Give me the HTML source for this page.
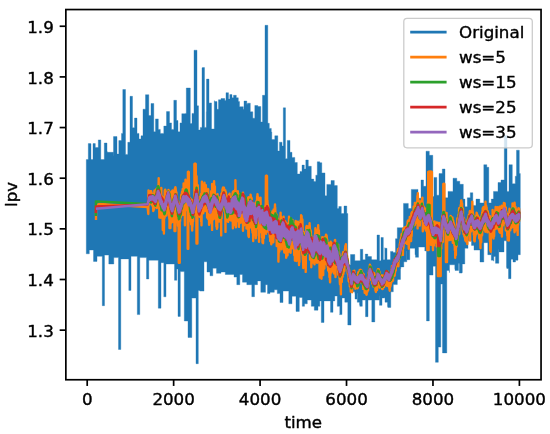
<!DOCTYPE html>
<html><head><meta charset="utf-8"><title>lpv rolling mean</title><style>html,body{margin:0;padding:0;background:#fff}svg{display:block}</style></head><body>
<svg width="550" height="434" viewBox="0 0 550 434">
<rect width="550" height="434" fill="#fff"/>
<g fill="none" stroke-linejoin="round" stroke-linecap="butt" stroke-width="2.4">
<path d="M86.3 159.6L88.3 159.6L88.3 143.6L90.8 143.6L90.8 144L91 144L91 159.6L93 159.6L93 143.6L95.3 143.6L95.3 147.6L98.3 147.6L98.3 139.9L100.8 139.9L100.8 159.6L104.3 159.6L104.3 143L107 143L107 151.6L107.3 151.6L107.3 152.3L113.3 152.3L113.3 155.4L113.5 155.4L113.5 136.6L117 136.6L117 154.1L118.8 154.1L118.8 140.6L121.5 140.6L121.5 133.4L122.8 133.4L122.8 89.5L125.5 89.5L125.5 154.4L127.8 154.4L127.8 142.3L130 142.3L130 96.3L132.5 96.3L132.5 127.7L134.5 127.7L134.5 118.1L137 118.1L137 133.4L139 133.4L139 139L141 139L141 135.8L143 135.8L143 109.2L145.5 109.2L145.5 94.7L148.8 94.7L148.8 115.6L151 115.6L151 103.5L153.8 103.5L153.8 131.8L155.5 131.8L155.5 118.9L158.3 118.9L158.3 129.4L160.3 129.4L160.3 133.4L163.8 133.4L163.8 126.1L166.5 126.1L166.5 111.6L169.5 111.6L169.5 122.9L171.5 122.9L171.5 129.4L173.8 129.4L173.8 100.3L176.5 100.3L176.5 120.5L178 120.5L178 131.8L180 131.8L180 122.9L181.8 122.9L181.8 113.7L185.5 113.7L185.5 113.4L186.3 113.4L186.3 88L190.3 88L190.3 123.6L192 123.6L192 113.4L193.8 113.4L193.8 114.3L194 114.3L194 50.2L197 50.2L197 105.8L198.5 105.8L198.5 130L200.3 130L200.3 127.4L202 127.4L202 68L202.3 68L202.3 67.6L204.5 67.6L204.5 127.4L206.3 127.4L206.3 111.8L206.5 111.8L206.5 79.1L209 79.1L209 103.3L209.5 103.3L209.5 102.9L211.5 102.9L211.5 129L214.3 129L214.3 100.7L214.5 100.7L214.5 101.6L217 101.6L217 109.3L218.5 109.3L218.5 99.7L221 99.7L221 98.5L224.8 98.5L224.8 100.4L226 100.4L226 92.7L228.5 92.7L228.5 99.1L229.8 99.1L229.8 94.6L232 94.6L232 97.8L233.5 97.8L233.5 95.3L236.3 95.3L236.3 97.8L238.3 97.8L238.3 101.6L239.5 101.6L239.5 106.7L243.3 106.7L243.3 109.3L244 109.3L244 101L246.8 101L246.8 104.2L247.5 104.2L247.5 103.2L250.3 103.2L250.3 111.8L252.8 111.8L252.8 118.2L254.8 118.2L254.8 105.5L257.8 105.5L257.8 106.5L260.8 106.5L260.8 122L262.5 122L262.5 95.3L265 95.3L265 25.3L267.8 25.3L267.8 123.3L269.3 123.3L269.3 128.4L271.3 128.4L271.3 132L271.8 132L271.8 139.6L274.8 139.6L274.8 135.8L277.8 135.8L277.8 151.1L279.5 151.1L279.5 142.2L282 142.2L282 146L283.3 146L283.3 107.8L285.5 107.8L285.5 158.7L287.3 158.7L287.3 140.4L290 140.4L290 152.3L292 152.3L292 157.4L294.8 157.4L294.8 162.5L297.3 162.5L297.3 174L300 174L300 171.4L302 171.4L302 165.1L304.3 165.1L304.3 168.9L305.8 168.9L305.8 160L308.3 160L308.3 166.3L311.3 166.3L311.3 179.1L313.8 179.1L313.8 181.6L315.8 181.6L315.8 175.2L317.3 175.2L317.3 161.8L319.8 161.8L319.8 162.7L321.8 162.7L321.8 172.9L325 172.9L325 195.8L326.8 195.8L326.8 184.4L331 184.4L331 180.5L334.3 180.5L334.3 185.6L337.3 185.6L337.3 208.5L338.8 208.5L338.8 206.5L341.3 206.5L341.3 213.6L344 213.6L344 206L346.8 206L346.8 213.6L347.8 213.6L347.8 264.9L350.5 264.9L350.5 254.5L354.8 254.5L354.8 260.7L360.3 260.7L360.3 249.3L362.8 249.3L362.8 259.7L365.3 259.7L365.3 254.1L367.8 254.1L367.8 256.9L368 256.9L368 256.6L371.5 256.6L371.5 259.6L371.8 259.6L371.8 259.7L377 259.7L377 235L379.5 235L379.5 260.7L381 260.7L381 237.4L381.3 237.4L381.3 237.5L383.3 237.5L383.3 259.7L384.8 259.7L384.8 247.8L385 247.8L385 248.3L387 248.3L387 259.7L390.3 259.7L390.3 260.5L390.5 260.5L390.5 251.4L393 251.4L393 252.4L395.5 252.4L395.5 238.7L397.3 238.7L397.3 227.7L403.5 227.7L403.5 203.4L408.3 203.4L408.3 208.5L411.3 208.5L411.3 189.4L418 189.4L418 198.3L421 198.3L421 180L423.5 180L423.5 186.3L426 186.3L426 151.2L429.3 151.2L429.3 155.3L432.8 155.3L432.8 196.5L434 196.5L434 177.4L436.8 177.4L436.8 195.2L439 195.2L439 173.6L442.3 173.6L442.3 169L445 169L445 197.8L448 197.8L448 191.4L453 191.4L453 178.2L456.8 178.2L456.8 181.2L459.8 181.2L459.8 184.3L463.3 184.3L463.3 199.1L465 199.1L465 206.7L467.3 206.7L467.3 197.8L470.3 197.8L470.3 192.7L472.8 192.7L472.8 205.4L476 205.4L476 199.1L479.8 199.1L479.8 202.9L483.8 202.9L483.8 164.7L486.8 164.7L486.8 167.3L488.8 167.3L488.8 202.9L491.3 202.9L491.3 199.1L493.5 199.1L493.5 191.4L498 191.4L498 182.5L501 182.5L501 180L504.3 180L504.3 135.4L507 135.4L507 191.4L509 191.4L509 164.7L512.3 164.7L512.3 183.8L515.3 183.8L515.3 176.2L516.5 176.2L516.5 150.2L519.3 150.2L519.3 173.6L520.3 173.6L520.3 254.7L518 254.7L518 260.2L515.5 260.2L515.5 262L513 262L513 259.3L511 259.3L511 278.7L508.5 278.7L508.5 268.5L506.8 268.5L506.8 267.4L506.5 267.4L506.5 240.8L504 240.8L504 251.9L499 251.9L499 249.6L498.8 249.6L498.8 263.3L495.5 263.3L495.5 256.5L493.8 256.5L493.8 261.1L493.5 261.1L493.5 260.2L491.3 260.2L491.3 252.2L491 252.2L491 254.7L487.8 254.7L487.8 242.7L483.8 242.7L483.8 262L480 262L480 250.1L474 250.1L474 244.5L473.8 244.5L473.8 245.4L471.5 245.4L471.5 240.8L468 240.8L468 248.3L467.8 248.3L467.8 248.2L464.8 248.2L464.8 263.9L462.3 263.9L462.3 272.5L462 272.5L462 273.1L459.3 273.1L459.3 263.6L458.5 263.6L458.5 270.4L455 270.4L455 268.7L454.8 268.7L454.8 264.8L449.5 264.8L449.5 272.5L449.3 272.5L449.3 270.4L446.8 270.4L446.8 352.9L442.5 352.9L442.5 284L440.8 284L440.8 347.1L438.3 347.1L438.3 362.3L435.5 362.3L435.5 266.2L433 266.2L433 275.1L429.3 275.1L429.3 320.9L426.5 320.9L426.5 250.9L424.8 250.9L424.8 247.1L418.5 247.1L418.5 257.3L415.5 257.3L415.5 254.7L415 254.7L415 248.3L409.8 248.3L409.8 259.7L407 259.7L407 250.9L406.8 250.9L406.8 261.8L403.8 261.8L403.8 266.9L400.8 266.9L400.8 268.7L400.5 268.7L400.5 279.4L397.5 279.4L397.5 280.5L397.3 280.5L397.3 284.6L393.3 284.6L393.3 291.8L390.8 291.8L390.8 307.4L387.8 307.4L387.8 306.5L387.5 306.5L387.5 302.2L385 302.2L385 297.1L384.8 297.1L384.8 298L382 298L382 305.3L379.5 305.3L379.5 295.8L379.3 295.8L379.3 300.1L374.8 300.1L374.8 321.9L371.8 321.9L371.8 300.1L368 300.1L368 316.7L365.5 316.7L365.5 299.6L365.3 299.6L365.3 300.1L362.3 300.1L362.3 306.3L359.8 306.3L359.8 304.7L359.5 304.7L359.5 302.2L357.3 302.2L357.3 293.3L357 293.3L357 299.1L355 299.1L355 293.3L354.8 293.3L354.8 291.8L351 291.8L351 325.1L350.8 325.1L350.8 325L347.8 325L347.8 302.2L344.8 302.2L344.8 298L342 298L342 314.6L340 314.6L340 314.9L339.8 314.9L339.8 306.3L337.3 306.3L337.3 296L334.8 296L334.8 300.9L333 300.9L333 312.3L330.5 312.3L330.5 300.9L324 300.9L324 322.5L321.3 322.5L321.3 300.9L319.8 300.9L319.8 306.3L318 306.3L318 310.2L314.3 310.2L314.3 306.3L311.3 306.3L311.3 300L307.3 300L307.3 303.8L304.5 303.8L304.5 306.3L302.3 306.3L302.3 297.4L299.3 297.4L299.3 311.4L296 311.4L296 296.2L292 296.2L292 303.8L288.8 303.8L288.8 291.1L283 291.1L283 302.5L280 302.5L280 293.6L277.3 293.6L277.3 289.8L274.3 289.8L274.3 292.3L270 292.3L270 293.6L267.5 293.6L267.5 284.7L265.5 284.7L265.5 292.3L260.8 292.3L260.8 280.9L257.5 280.9L257.5 284.7L254.5 284.7L254.5 296.7L251.8 296.7L251.8 284.7L246.8 284.7L246.8 282.2L242.5 282.2L242.5 274.5L239.8 274.5L239.8 284.7L236.8 284.7L236.8 277.1L234 277.1L234 274.5L225.3 274.5L225.3 272L221 272L221 273.3L216.5 273.3L216.5 268.2L212.8 268.2L212.8 275.8L210 275.8L210 272L207 272L207 261.8L204 261.8L204 291.1L199.8 291.1L199.8 290.4L198.3 290.4L198.3 363.7L196 363.7L196 298.1L191.8 298.1L191.8 337.5L188 337.5L188 321L184.3 321L184.3 271.6L180.3 271.6L180.3 316.4L178 316.4L178 269.1L176.8 269.1L176.8 280.3L174.5 280.3L174.5 264L166 264L166 296.8L163.8 296.8L163.8 262.7L161 262.7L161 308.2L158.3 308.2L158.3 260.2L148.8 260.2L148.8 279L146.5 279L146.5 257.6L139.8 257.6L139.8 314.6L137.3 314.6L137.3 256.3L131 256.3L131 290.4L128.8 290.4L128.8 258.9L120.8 258.9L120.8 349.5L118.5 349.5L118.5 257.6L113.8 257.6L113.8 264L108.8 264L108.8 255.1L104.5 255.1L104.5 305.7L102.3 305.7L102.3 256.3L97 256.3L97 261.4L93.5 261.4L93.5 250L89.3 250L89.3 253.8L86.3 253.8Z" stroke="#1f77b4" fill="#1f77b4" stroke-width="0.35"/>
<path d="M96 220L96.1 205.5L99 204L147.6 207L148.3 214L148.5 190.5L148.8 196.4L148.8 204.2L149 204.2L149 195.8L149.2 195L149.2 202.9L149.4 202.7L149.4 195.8L149.7 196.6L149.7 204.3L149.9 203.1L149.9 195.4L150.1 195.2L150.1 203.4L150.3 201.6L150.3 191.3L150.5 193.1L150.5 202.7L150.7 201.5L150.7 192.4L150.9 192.6L150.9 200.1L151.2 199.9L151.2 191.3L151.4 193L151.4 202.9L151.6 201.4L151.6 193L151.8 193.3L151.8 202.4L152 202.5L152 193.5L152.2 194.6L152.2 205.3L152.5 204.3L152.5 195.2L152.7 194.5L152.7 206.3L152.9 204.5L152.9 194.2L153.1 194.9L153.1 207.4L153.3 211.1L153.3 194.2L153.5 194.9L153.5 204.8L153.8 203.8L153.8 194.7L154 195.4L154 209.8L154.2 204.5L154.2 197.4L154.4 190.8L154.4 203.7L154.6 205.5L154.6 195.8L154.8 194.1L154.8 204.7L155.1 207L155.1 195.2L155.3 192.5L155.3 205.9L155.5 205.6L155.5 192.9L155.7 191.1L155.7 207L155.9 203.9L155.9 189.5L156.1 192L156.1 203.2L156.4 202.7L156.4 191.3L156.6 189.3L156.6 202.8L156.8 208L156.8 189L157 188.3L157 202.7L157.2 203L157.2 190.4L157.4 189L157.4 204.4L157.6 201.1L157.6 188.3L157.9 189.1L157.9 201.7L158.1 198.6L158.1 187.6L158.3 186.5L158.3 206.1L158.5 200.8L158.5 187.7L158.7 178.3L158.7 202.2L158.9 206.7L158.9 188.1L159.2 188.9L159.2 205.5L159.4 217.5L159.4 189.7L159.6 188.9L159.6 203.5L159.8 208.8L159.8 192.5L160 194.3L160 206.4L160.2 209.9L160.2 194.2L160.5 196L160.5 213.3L160.7 217.8L160.7 193.1L160.9 193.3L160.9 207.3L161.1 211.5L161.1 194.2L161.3 187.9L161.3 214.8L161.5 210.5L161.5 196.2L161.8 196L161.8 210.9L162 211.7L162 197.5L162.2 200.3L162.2 213.9L162.4 212.9L162.4 200.6L162.6 202L162.6 214.5L162.8 230L162.8 202.6L163.1 203.2L163.1 217.1L163.3 215.1L163.3 197.5L163.5 198.2L163.5 213.4L163.7 213.6L163.7 198.6L163.9 198.7L163.9 233.5L164.1 213.5L164.1 201.3L164.3 199.3L164.3 211.6L164.6 217.9L164.6 197.4L164.8 190.4L164.8 211.1L165 214.7L165 196.9L165.2 189.7L165.2 214.9L165.4 215.5L165.4 190.6L165.6 196.2L165.6 214.3L165.9 210.8L165.9 196.8L166.1 194.5L166.1 207.8L166.3 208.6L166.3 192L166.5 193.1L166.5 215.6L166.7 210.8L166.7 193.1L166.9 193.7L166.9 207.4L167.2 208L167.2 192L167.4 192.7L167.4 203.5L167.6 213L167.6 191.9L167.8 191.7L167.8 199.4L168 199.7L168 191.1L168.2 191.8L168.2 202.9L168.5 203.2L168.5 190L168.7 191.5L168.7 202L168.9 207.9L168.9 192.6L169.1 192.5L169.1 210.7L169.3 218.6L169.3 194.8L169.5 197.3L169.5 228L169.8 228L169.8 196.9L170 198.1L170 228L170.2 228L170.2 198L170.4 199.5L170.4 228L170.6 212L170.6 198.3L170.8 199.6L170.8 213.4L171 215.1L171 197L171.3 191.8L171.3 222.6L171.5 213.5L171.5 201.9L171.7 202.7L171.7 215.1L171.9 219.3L171.9 202.4L172.1 201.3L172.1 216.9L172.3 221.5L172.3 200.7L172.6 190.4L172.6 221.7L172.8 211.9L172.8 199.7L173 195.7L173 213.2L173.2 214.1L173.2 196.2L173.4 196.7L173.4 211.8L173.6 209.4L173.6 197.1L173.9 192.4L173.9 212.5L174.1 207.9L174.1 193.1L174.3 194.9L174.3 207.4L174.5 231L174.5 192L174.7 189.9L174.7 231L174.9 231L174.9 188.4L175.2 188.4L175.2 231L175.4 231L175.4 187.2L175.6 188.3L175.6 202.3L175.8 201.4L175.8 189.8L176 192.3L176 203.8L176.2 205L176.2 192.7L176.4 192.1L176.4 209.6L176.7 209.8L176.7 195.6L176.9 195.9L176.9 222L177.1 210.8L177.1 200L177.3 200.6L177.3 213.8L177.5 213.5L177.5 201.9L177.7 206.3L177.7 216.5L178 225.9L178 207.5L178.2 207.6L178.2 223.6L178.4 222.9L178.4 207.8L178.6 205.4L178.6 220.1L178.8 262.7L178.8 210.9L179 211.1L179 262.7L179.3 262.7L179.3 208.8L179.5 209.2L179.5 262.7L179.7 262.7L179.7 209.3L179.9 204.9L179.9 218.3L180.1 221.4L180.1 205.9L180.3 203.4L180.3 218L180.6 216L180.6 203.5L180.8 201.2L180.8 214.6L181 216.7L181 197.9L181.2 194.9L181.2 213.1L181.4 210.7L181.4 198.8L181.6 194.2L181.6 206.4L181.9 209.5L181.9 192.7L182.1 191.8L182.1 206.2L182.3 206.1L182.3 192.5L182.5 192.8L182.5 204.3L182.7 214.8L182.7 188.9L182.9 190.7L182.9 203.6L183.1 201.8L183.1 188.9L183.4 192.5L183.4 202.6L183.6 202.4L183.6 183.5L183.8 190.2L183.8 201.4L184 205.3L184 193L184.2 190.5L184.2 207.7L184.4 207L184.4 194.8L184.7 194.5L184.7 205.8L184.9 225.2L184.9 188.1L185.1 190.8L185.1 202.9L185.3 204.8L185.3 192.8L185.5 179.8L185.5 202.6L185.7 210.1L185.7 188L186 187.9L186 202L186.2 202.9L186.2 182.9L186.4 184.4L186.4 200.7L186.6 203.7L186.6 188.8L186.8 187.9L186.8 204.8L187 201.9L187 187.9L187.3 188.7L187.3 200.5L187.5 200.8L187.5 185.9L187.7 185.8L187.7 248.7L187.9 248.7L187.9 172L188.1 172L188.1 248.7L188.3 248.7L188.3 172L188.6 172L188.6 209.1L188.8 206.1L188.8 172L189 198.4L189 215.6L189.2 209.9L189.2 200L189.4 200.4L189.4 213.2L189.6 213.6L189.6 200.6L189.8 202.3L189.8 213.5L190.1 221.3L190.1 198L190.3 201.3L190.3 217.3L190.5 216.8L190.5 201.2L190.7 202.9L190.7 214.8L190.9 216.7L190.9 199.2L191.1 201.4L191.1 224.2L191.4 219.8L191.4 203L191.6 203.1L191.6 214.1L191.8 215.2L191.8 201.9L192 206.5L192 228.7L192.2 230.6L192.2 206.3L192.4 209.4L192.4 226.9L192.7 221.7L192.7 209.3L192.9 210.2L192.9 219.5L193.1 221.4L193.1 209.5L193.3 207.9L193.3 216.6L193.5 214.7L193.5 199.7L193.7 202.8L193.7 214.5L194 214.3L194 200.4L194.2 199.3L194.2 214.9L194.4 211.3L194.4 164L194.6 164L194.6 210.6L194.8 212.6L194.8 164L195 164L195 204.6L195.3 212.3L195.3 164L195.5 164L195.5 201.8L195.7 205.7L195.7 164L195.9 178.9L195.9 198.7L196.1 199.6L196.1 182.8L196.3 182.9L196.3 203.5L196.5 243.6L196.5 176.1L196.8 186.2L196.8 243.6L197 243.6L197 184.6L197.2 191.9L197.2 243.6L197.4 243.6L197.4 189.1L197.6 192.3L197.6 207.2L197.8 215.7L197.8 185.3L198.1 199.1L198.1 209.5L198.3 211.3L198.3 196.4L198.5 199.6L198.5 210.3L198.7 209.6L198.7 197L198.9 198.1L198.9 209.7L199.1 214.9L199.1 197.4L199.4 201.9L199.4 214.5L199.6 213.3L199.6 200.7L199.8 198.6L199.8 216.7L200 212.1L200 196.9L200.2 200.9L200.2 216.5L200.4 216.4L200.4 199.9L200.7 198.6L200.7 213.4L200.9 210.6L200.9 197.4L201.1 194L201.1 221.5L201.3 208.7L201.3 194.8L201.5 194L201.5 225.3L201.7 208.2L201.7 195.8L201.9 181.8L201.9 207.2L202.2 204L202.2 190.8L202.4 191.8L202.4 207.2L202.6 207L202.6 189.2L202.8 184.3L202.8 207.4L203 203.3L203 189.7L203.2 188.3L203.2 213.3L203.5 206.8L203.5 191.8L203.7 189.4L203.7 208L203.9 209.6L203.9 191.3L204.1 190.9L204.1 205.8L204.3 210L204.3 192L204.5 182.8L204.5 208L204.8 200.6L204.8 189.1L205 190.3L205 211L205.2 203.3L205.2 185.8L205.4 186.2L205.4 204.3L205.6 202.8L205.6 187L205.8 185.3L205.8 207.6L206.1 208.4L206.1 187.7L206.3 189.2L206.3 205.4L206.5 207.7L206.5 191.1L206.7 192.8L206.7 207.2L206.9 203L206.9 193.3L207.1 195.1L207.1 217.6L207.4 210.8L207.4 194.7L207.6 194L207.6 212.9L207.8 206.8L207.8 190.5L208 195.8L208 209.8L208.2 219L208.2 189.2L208.4 198L208.4 213.7L208.6 213.2L208.6 198.4L208.9 197.2L208.9 210L209.1 224.7L209.1 201.3L209.3 199.3L209.3 220.2L209.5 220.8L209.5 201.6L209.7 200.6L209.7 215.1L209.9 214.6L209.9 201L210.2 202.6L210.2 222.6L210.4 219.2L210.4 202.6L210.6 200.3L210.6 211.2L210.8 212.8L210.8 199.6L211 196.6L211 214.2L211.2 216.4L211.2 191.1L211.5 195.2L211.5 209.6L211.7 210.5L211.7 194.7L211.9 195.3L211.9 212.8L212.1 229.9L212.1 184L212.3 198.2L212.3 209.3L212.5 210.7L212.5 191.2L212.8 199.4L212.8 207.9L213 208.1L213 195.7L213.2 194.2L213.2 203.9L213.4 219.3L213.4 191.5L213.6 193.1L213.6 207.9L213.8 211.1L213.8 195.6L214.1 181.3L214.1 210.6L214.3 209.2L214.3 194.8L214.5 194.5L214.5 209.4L214.7 217.3L214.7 195.3L214.9 186.4L214.9 217.4L215.1 209.7L215.1 197.2L215.3 195.5L215.3 210.8L215.6 210.4L215.6 198.4L215.8 199L215.8 218.9L216 214.4L216 199.5L216.2 198.6L216.2 218.7L216.4 226.5L216.4 202.5L216.6 200.6L216.6 212.6L216.9 228.8L216.9 201.5L217.1 199.5L217.1 212.1L217.3 227.8L217.3 198.3L217.5 194.1L217.5 210.2L217.7 220.1L217.7 199.7L217.9 199.1L217.9 215.1L218.2 211.9L218.2 197.4L218.4 199.7L218.4 216.9L218.6 219.1L218.6 200.9L218.8 197.3L218.8 221L219 218.9L219 202.9L219.2 203.7L219.2 221.5L219.5 217.1L219.5 202L219.7 197.7L219.7 218.1L219.9 217.3L219.9 207.5L220.1 203.9L220.1 217.5L220.3 218.8L220.3 203.3L220.5 199.4L220.5 213.7L220.7 212L220.7 200.7L221 199.7L221 218.3L221.2 235.4L221.2 201.7L221.4 193.8L221.4 218.9L221.6 218.4L221.6 198L221.8 197.3L221.8 209.4L222 207.7L222 192.7L222.3 193L222.3 207.3L222.5 207.5L222.5 189.2L222.7 190.8L222.7 205.1L222.9 205.4L222.9 188L223.1 187.4L223.1 208.6L223.3 205.8L223.3 187.5L223.6 189.9L223.6 204.5L223.8 206.2L223.8 188.4L224 187.7L224 203L224.2 204.5L224.2 188.8L224.4 193.2L224.4 207.6L224.6 211.2L224.6 194.7L224.9 194.8L224.9 207.7L225.1 209.4L225.1 194L225.3 190.2L225.3 205.1L225.5 231.9L225.5 195.9L225.7 195.2L225.7 214.9L225.9 209L225.9 192.1L226.2 195.4L226.2 210.5L226.4 219.2L226.4 197.6L226.6 200.1L226.6 216.8L226.8 220.8L226.8 203.6L227 204.8L227 220.1L227.2 220.4L227.2 203.2L227.4 203.7L227.4 221L227.7 219.4L227.7 204.3L227.9 204.4L227.9 217L228.1 221.9L228.1 205.5L228.3 196.4L228.3 219.5L228.5 214L228.5 203.3L228.7 195.9L228.7 213.5L229 214.2L229 194.9L229.2 195.2L229.2 220L229.4 214.2L229.4 195.9L229.6 193.6L229.6 213.7L229.8 214.7L229.8 198.6L230 198.1L230 208.1L230.3 213.9L230.3 196.6L230.5 197L230.5 212.4L230.7 218.6L230.7 198.2L230.9 198.2L230.9 217.4L231.1 220.6L231.1 199.6L231.3 198.9L231.3 218.9L231.6 214.6L231.6 197.6L231.8 199.6L231.8 216.7L232 215.9L232 201.5L232.2 199.2L232.2 217.3L232.4 212.1L232.4 198.2L232.6 192.9L232.6 212.2L232.9 228.2L232.9 191.7L233.1 194.8L233.1 214L233.3 211.7L233.3 192.3L233.5 192.2L233.5 212.4L233.7 225.3L233.7 198.7L233.9 193.5L233.9 217.4L234.1 212L234.1 191L234.4 196.9L234.4 210.8L234.6 211.9L234.6 196.2L234.8 193.5L234.8 210.9L235 211.2L235 193.9L235.2 189.3L235.2 212.1L235.4 209.5L235.4 180.3L235.7 194.2L235.7 216.4L235.9 227.2L235.9 195.6L236.1 200L236.1 217.9L236.3 214.8L236.3 198.4L236.5 195.5L236.5 214.4L236.7 212.4L236.7 196.7L237 197.4L237 218L237.2 213.4L237.2 194.2L237.4 195.7L237.4 214.6L237.6 214L237.6 195.6L237.8 191.3L237.8 216.2L238 218.3L238 200.5L238.3 200L238.3 221.8L238.5 221.4L238.5 198.2L238.7 202.6L238.7 221.1L238.9 226.9L238.9 205.5L239.1 204.1L239.1 223.8L239.3 220.3L239.3 200.6L239.6 205.5L239.6 222.3L239.8 223L239.8 200.1L240 200.1L240 218.2L240.2 217.9L240.2 194.3L240.4 198.1L240.4 216.7L240.6 218.6L240.6 197.3L240.8 199.2L240.8 222.5L241.1 220.1L241.1 197.9L241.3 199.6L241.3 219.2L241.5 222.2L241.5 193.9L241.7 198.4L241.7 216.9L241.9 212.5L241.9 195L242.1 195.8L242.1 214.9L242.4 214.4L242.4 195.5L242.6 195L242.6 214.5L242.8 212.4L242.8 195.5L243 192.6L243 230.8L243.2 212.7L243.2 195.2L243.4 198.8L243.4 216.1L243.7 214.8L243.7 197.6L243.9 197.6L243.9 217.2L244.1 225.3L244.1 199.1L244.3 199.9L244.3 219.4L244.5 217.8L244.5 196.8L244.7 198.2L244.7 218.5L245 217.3L245 199.1L245.2 200.3L245.2 221.7L245.4 223L245.4 201.2L245.6 201L245.6 219.4L245.8 220.7L245.8 204.1L246 208L246 223.2L246.2 224.6L246.2 208.1L246.5 208.6L246.5 228.4L246.7 223.4L246.7 207.5L246.9 206.1L246.9 227.9L247.1 223.6L247.1 203.1L247.3 202.1L247.3 222.4L247.5 229L247.5 202.6L247.8 201.3L247.8 222L248 218.7L248 200.1L248.2 197.6L248.2 226.8L248.4 236L248.4 201.2L248.6 197.1L248.6 225.4L248.8 237L248.8 200.6L249.1 203L249.1 219.9L249.3 225.4L249.3 199.6L249.5 204.6L249.5 220.8L249.7 226.9L249.7 203.8L249.9 202.9L249.9 227.5L250.1 225.6L250.1 198.8L250.4 198.5L250.4 223.2L250.6 219.7L250.6 194.6L250.8 196.1L250.8 219.7L251 221.4L251 198.3L251.2 197.1L251.2 224.1L251.4 220.7L251.4 197.7L251.7 198.1L251.7 223.6L251.9 227.3L251.9 205.9L252.1 207L252.1 229.9L252.3 229.1L252.3 208.4L252.5 209.7L252.5 232.5L252.7 226.9L252.7 204.3L252.9 204.6L252.9 223.8L253.2 241L253.2 202.9L253.4 203.3L253.4 235.1L253.6 230L253.6 206.1L253.8 204.3L253.8 227L254 222.7L254 203.4L254.2 204.7L254.2 223.9L254.5 226.1L254.5 205.8L254.7 209.1L254.7 230.8L254.9 232.2L254.9 211.3L255.1 208.8L255.1 231.8L255.3 232.8L255.3 211.9L255.5 209.5L255.5 232.8L255.8 238.2L255.8 209.4L256 208.3L256 231.3L256.2 235.8L256.2 203.8L256.4 201.3L256.4 222.8L256.6 223L256.6 205.5L256.8 201.4L256.8 224.1L257.1 222.4L257.1 196.4L257.3 199L257.3 222.9L257.5 222.4L257.5 194.1L257.7 197.4L257.7 224.4L257.9 228.3L257.9 200.9L258.1 197.1L258.1 224.1L258.4 224.5L258.4 199.3L258.6 204.2L258.6 225.9L258.8 223L258.8 200.2L259 207.3L259 241.7L259.2 223.8L259.2 204.1L259.4 204L259.4 228.5L259.6 225.5L259.6 199.4L259.9 199.3L259.9 224.1L260.1 221.8L260.1 199.7L260.3 199.9L260.3 223.8L260.5 223.3L260.5 197.6L260.7 207L260.7 225.1L260.9 228.5L260.9 208.4L261.2 210.7L261.2 232.3L261.4 230.2L261.4 210.7L261.6 212.5L261.6 231L261.8 232.1L261.8 213.6L262 216.2L262 237.5L262.2 233L262.2 212.9L262.5 215.9L262.5 242.6L262.7 237.9L262.7 218.4L262.9 218.7L262.9 239.9L263.1 243.3L263.1 215.9L263.3 216.8L263.3 231.5L263.5 231.7L263.5 210.2L263.8 212.9L263.8 238.2L264 234.5L264 213.2L264.2 211.2L264.2 228.8L264.4 229L264.4 207.5L264.6 211.7L264.6 233.9L264.8 232.4L264.8 209.9L265.1 210.5L265.1 226.8L265.3 226L265.3 209.1L265.5 204.9L265.5 230.6L265.7 229L265.7 211.6L265.9 176L265.9 230.7L266.1 233.7L266.1 176L266.3 176L266.3 231.6L266.6 230.7L266.6 176L266.8 176L266.8 230.9L267 226.9L267 176L267.2 203.9L267.2 228.8L267.4 231L267.4 200.3L267.6 204.8L267.6 231.5L267.9 225.5L267.9 204.8L268.1 206.2L268.1 227.5L268.3 224.7L268.3 210.5L268.5 209.8L268.5 222.4L268.7 229.6L268.7 208.2L268.9 211.6L268.9 229.5L269.2 229.9L269.2 215.1L269.4 213.7L269.4 230.6L269.6 234.5L269.6 213.9L269.8 211.9L269.8 237L270 234L270 211.7L270.2 213.6L270.2 241.1L270.5 238.7L270.5 216.1L270.7 217.2L270.7 235L270.9 236.6L270.9 214.9L271.1 216.2L271.1 237.5L271.3 244.3L271.3 217.2L271.5 218.6L271.5 236.4L271.7 236.3L271.7 217.9L272 212.9L272 238.2L272.2 237.5L272.2 214.2L272.4 215.3L272.4 238.9L272.6 238.7L272.6 211.3L272.8 213.8L272.8 236.5L273 233.9L273 214L273.3 213L273.3 242.2L273.5 235L273.5 215.1L273.7 209.4L273.7 233.1L273.9 234.9L273.9 215.4L274.1 216.4L274.1 235.6L274.3 234L274.3 214L274.6 213L274.6 229.6L274.8 231.1L274.8 208.2L275 204.5L275 231.1L275.2 230.1L275.2 207.3L275.4 212.8L275.4 230.4L275.6 233.7L275.6 212.9L275.9 214.2L275.9 236.3L276.1 235.6L276.1 216L276.3 219.4L276.3 238.9L276.5 239.3L276.5 220.4L276.7 217.9L276.7 246L276.9 236.2L276.9 214.7L277.2 217.6L277.2 237.2L277.4 238.9L277.4 218.8L277.6 223L277.6 243.5L277.8 242.8L277.8 218.7L278 220L278 243.8L278.2 244.7L278.2 223.6L278.4 226.2L278.4 261.6L278.7 249.6L278.7 229L278.9 232.4L278.9 248.1L279.1 247.5L279.1 231.3L279.3 229.9L279.3 251.8L279.5 245.2L279.5 228.3L279.7 227.5L279.7 247.7L280 247.6L280 222L280.2 222.2L280.2 240.8L280.4 242.8L280.4 224.2L280.6 212.7L280.6 238.6L280.8 241.1L280.8 221.1L281 216.6L281 239L281.3 243.9L281.3 222.7L281.5 222.8L281.5 241.4L281.7 249.2L281.7 224L281.9 222.8L281.9 245.1L282.1 245.5L282.1 220.9L282.3 224.2L282.3 243.9L282.6 242.5L282.6 220.8L282.8 220.4L282.8 240.2L283 240.7L283 222.9L283.2 219.6L283.2 241.7L283.4 238L283.4 221.7L283.6 216.6L283.6 237.1L283.9 243.1L283.9 219.5L284.1 223.3L284.1 246.8L284.3 252.5L284.3 223.8L284.5 225.8L284.5 247.3L284.7 249L284.7 228.5L284.9 226.5L284.9 246.5L285.1 242.2L285.1 221L285.4 223.6L285.4 246.3L285.6 243.2L285.6 223.1L285.8 222.3L285.8 244.1L286 246.9L286 223.7L286.2 222.7L286.2 257.7L286.4 252.5L286.4 225.8L286.7 225.9L286.7 248.8L286.9 250.4L286.9 223.7L287.1 224.9L287.1 252.8L287.3 249.7L287.3 229.7L287.5 229.5L287.5 255.5L287.7 250.2L287.7 228.8L288 229.8L288 244.7L288.2 251.2L288.2 231.7L288.4 229.2L288.4 252L288.6 249.7L288.6 223.9L288.8 226.9L288.8 247.5L289 249.7L289 216.7L289.3 225.1L289.3 246.8L289.5 243.7L289.5 225.5L289.7 222.5L289.7 242.7L289.9 245.5L289.9 223.6L290.1 222.1L290.1 241.2L290.3 247.1L290.3 218.8L290.6 219.9L290.6 252.8L290.8 244.2L290.8 222.9L291 220.2L291 243.1L291.2 242.3L291.2 225L291.4 221.5L291.4 241.6L291.6 238.4L291.6 220.9L291.8 222.1L291.8 241.8L292.1 240.2L292.1 222.1L292.3 220.6L292.3 248.2L292.5 241.8L292.5 219.9L292.7 223.5L292.7 239.9L292.9 239.3L292.9 223.9L293.1 225.2L293.1 238.8L293.4 236.8L293.4 225.3L293.6 225L293.6 239.9L293.8 241.9L293.8 223.8L294 226.6L294 247L294.2 255L294.2 229.2L294.4 230.9L294.4 253.4L294.7 256.2L294.7 229.6L294.9 235.1L294.9 260.6L295.1 252.3L295.1 227.8L295.3 231.8L295.3 255.7L295.5 250.6L295.5 227.3L295.7 221L295.7 250.2L296 250.2L296 227.1L296.2 229.4L296.2 253.1L296.4 252.3L296.4 231.1L296.6 232.4L296.6 261L296.8 256.8L296.8 232.9L297 235.2L297 254.6L297.2 254.1L297.2 232.7L297.5 230.3L297.5 257.9L297.7 246.1L297.7 227.1L297.9 221.7L297.9 242.3L298.1 244.6L298.1 223.9L298.3 225L298.3 245.5L298.5 246.4L298.5 223L298.8 223.9L298.8 248.2L299 265.1L299 228.7L299.2 225.4L299.2 249.5L299.4 261.9L299.4 233L299.6 231.4L299.6 247.1L299.8 245.5L299.8 229.8L300.1 228.8L300.1 249.7L300.3 245.2L300.3 229L300.5 220.6L300.5 242L300.7 241.7L300.7 220.9L300.9 219.9L300.9 244.9L301.1 244.5L301.1 215.2L301.4 220.6L301.4 242.8L301.6 250L301.6 216L301.8 222.1L301.8 244.7L302 245.6L302 226.7L302.2 230.2L302.2 253L302.4 255.2L302.4 219.5L302.7 232.6L302.7 256.9L302.9 260L302.9 233.1L303.1 235.1L303.1 260L303.3 268L303.3 232.4L303.5 232L303.5 257.6L303.7 253.5L303.7 234L303.9 233.8L303.9 265.3L304.2 257.9L304.2 234.5L304.4 237.1L304.4 258.4L304.6 258.5L304.6 237.9L304.8 240.6L304.8 256.4L305 262L305 237.1L305.2 237.7L305.2 257.5L305.5 253.5L305.5 235.9L305.7 233.6L305.7 271.9L305.9 251.3L305.9 231.5L306.1 231.8L306.1 247.5L306.3 245.3L306.3 227.2L306.5 226.3L306.5 253.6L306.8 248.1L306.8 225.9L307 226.6L307 248.3L307.2 249.7L307.2 227.4L307.4 228.6L307.4 246.9L307.6 243.5L307.6 227.2L307.8 231.2L307.8 250.5L308.1 251L308.1 227.3L308.3 229.3L308.3 248.6L308.5 246.8L308.5 229.4L308.7 226.4L308.7 244.7L308.9 251.1L308.9 226.3L309.1 229.5L309.1 248.5L309.4 246.8L309.4 230.2L309.6 223.3L309.6 250.5L309.8 249.7L309.8 225.6L310 232.4L310 259.6L310.2 253L310.2 233.2L310.4 232.2L310.4 257L310.6 255.4L310.6 230.3L310.9 231.3L310.9 255.3L311.1 254.8L311.1 235.3L311.3 236.6L311.3 267.3L311.5 261.9L311.5 238.6L311.7 242.4L311.7 261.4L311.9 262.8L311.9 240.3L312.2 240.7L312.2 259.6L312.4 262.5L312.4 243.9L312.6 241.1L312.6 260.2L312.8 257L312.8 239.5L313 238.6L313 259.1L313.2 257.7L313.2 241.2L313.5 241.3L313.5 262.5L313.7 260.6L313.7 240.1L313.9 241.1L313.9 258.5L314.1 261L314.1 241.3L314.3 239.9L314.3 261.4L314.5 264.4L314.5 239.1L314.8 235.7L314.8 260.1L315 258.7L315 235.2L315.2 233.1L315.2 258.8L315.4 255.1L315.4 228.2L315.6 230.7L315.6 252.3L315.8 256.7L315.8 229.9L316 231.7L316 253.5L316.3 258.8L316.3 233.5L316.5 232.1L316.5 258.6L316.7 260L316.7 236.5L316.9 237.3L316.9 262.7L317.1 262.8L317.1 236L317.3 233.6L317.3 259.8L317.6 260.9L317.6 233.3L317.8 234.2L317.8 256.3L318 254.3L318 232.2L318.2 225.3L318.2 248.4L318.4 260.7L318.4 235.3L318.6 232L318.6 252.9L318.9 257.9L318.9 230.5L319.1 241L319.1 255.7L319.3 254L319.3 240L319.5 247.5L319.5 265.5L319.7 277.6L319.7 246.3L319.9 246.6L319.9 261.2L320.2 263.7L320.2 245.4L320.4 244.7L320.4 263.2L320.6 264.3L320.6 244.5L320.8 244.2L320.8 270.8L321 267.3L321 244.5L321.2 243.5L321.2 272.2L321.5 278.7L321.5 249.6L321.7 243.5L321.7 272.5L321.9 266.9L321.9 245.9L322.1 247L322.1 266.7L322.3 259.2L322.3 237.2L322.5 240.7L322.5 261.7L322.7 260.1L322.7 239.4L323 240.2L323 258.5L323.2 275L323.2 238.3L323.4 238.1L323.4 258.4L323.6 259.8L323.6 238.3L323.8 238.4L323.8 261.1L324 262.5L324 238.8L324.3 239.3L324.3 268.6L324.5 263.1L324.5 237.5L324.7 240.3L324.7 263.8L324.9 257.6L324.9 239.1L325.1 240.2L325.1 264.1L325.3 263.8L325.3 242.9L325.6 241.3L325.6 263.4L325.8 261.7L325.8 236.7L326 234.6L326 263.7L326.2 257.7L326.2 237.4L326.4 239.8L326.4 259.1L326.6 259.4L326.6 235.5L326.9 239L326.9 260.8L327.1 263.1L327.1 242L327.3 239.7L327.3 265.5L327.5 262.2L327.5 244.9L327.7 246.7L327.7 261.9L327.9 267.8L327.9 248.3L328.2 250.4L328.2 270.4L328.4 269.6L328.4 252.4L328.6 251.4L328.6 270L328.8 270.3L328.8 243.1L329 255.1L329 271.6L329.2 272.3L329.2 253.9L329.4 254.8L329.4 277L329.7 276.8L329.7 258L329.9 255.6L329.9 278.7L330.1 282.4L330.1 255.9L330.3 252.4L330.3 275.4L330.5 272.2L330.5 247.4L330.7 241.7L330.7 273.5L331 266.1L331 243.9L331.2 246.1L331.2 266L331.4 272.3L331.4 245L331.6 245.1L331.6 266.5L331.8 266.8L331.8 247.8L332 243.4L332 267L332.3 270.8L332.3 247.1L332.5 244.3L332.5 263.7L332.7 264.6L332.7 244.1L332.9 246.5L332.9 263.5L333.1 270.3L333.1 245.1L333.3 244.9L333.3 267.7L333.6 267.7L333.6 246.6L333.8 244.1L333.8 262L334 273.4L334 244.9L334.2 245.5L334.2 261.5L334.4 261L334.4 245.5L334.6 242.6L334.6 259.8L334.9 266.2L334.9 240.1L335.1 239.9L335.1 258L335.3 262.3L335.3 243.9L335.5 244.4L335.5 277L335.7 265L335.7 247.8L335.9 248.4L335.9 264.8L336.1 263.3L336.1 244.7L336.4 249.5L336.4 267.3L336.6 267.1L336.6 250.9L336.8 247.5L336.8 262.8L337 265.7L337 250.1L337.2 246.9L337.2 264.1L337.4 266.2L337.4 249.2L337.7 248.7L337.7 264.3L337.9 265.8L337.9 245.7L338.1 244.6L338.1 266.4L338.3 274.8L338.3 248.2L338.5 251L338.5 269.9L338.7 270.8L338.7 252L339 252.1L339 266L339.2 270.4L339.2 255.3L339.4 254L339.4 268L339.6 278.5L339.6 256L339.8 258.8L339.8 281.4L340 284.3L340 258L340.3 257.8L340.3 279.7L340.5 279.1L340.5 258.6L340.7 263.7L340.7 281.5L340.9 294.2L340.9 265.6L341.1 263.8L341.1 279.7L341.3 276.4L341.3 265.1L341.5 263.7L341.5 282.1L341.8 281.9L341.8 264.1L342 261.5L342 272.9L342.2 272.9L342.2 259.9L342.4 257.6L342.4 269.7L342.6 276.7L342.6 258.2L342.8 253.7L342.8 271.8L343.1 269.7L343.1 252.3L343.3 254.4L343.3 274.2L343.5 272.1L343.5 253.8L343.7 254L343.7 268.9L343.9 270.3L343.9 256L344.1 255.9L344.1 268.7L344.4 270.9L344.4 255L344.6 253.4L344.6 264.5L344.8 262.4L344.8 251.3L345 248.7L345 261.3L345.2 258.7L345.2 246.9L345.4 245.6L345.4 257.8L345.7 260L345.7 245.2L345.9 244.2L345.9 264.3L346.1 258.8L346.1 248.8L346.3 252.5L346.3 265.9L346.5 262.4L346.5 253L346.7 255.2L346.7 263.4L347 265.2L347 255.7L347.2 257.4L347.2 266.5L347.4 268.8L347.4 258.1L347.6 259.2L347.6 269L347.8 273.8L347.8 259L348 261.9L348 271.7L348.2 273.8L348.2 264.9L348.5 267.6L348.5 274.9L348.7 281.2L348.7 268.2L348.9 268.4L348.9 277.7L349.1 279.8L349.1 271.5L349.3 271L349.3 281.4L349.5 282.4L349.5 272L349.8 272.7L349.8 286.2L350 284.2L350 273.8L350.2 274.8L350.2 284.3L350.4 284.1L350.4 274.2L350.6 276.3L350.6 283.7L350.8 291.6L350.8 278.4L351.1 279.3L351.1 287.6L351.3 289L351.3 281L351.5 283.2L351.5 291.1L351.7 289.5L351.7 279.5L351.9 277.6L351.9 289.6L352.1 292.2L352.1 279.1L352.4 277.7L352.4 287.6L352.6 286.3L352.6 277.3L352.8 276L352.8 286.5L353 281L353 273L353.2 272.4L353.2 281.1L353.4 280.9L353.4 271.2L353.7 271.3L353.7 285.8L353.9 281.5L353.9 271.4L354.1 271.3L354.1 281.3L354.3 282.3L354.3 270.6L354.5 273.1L354.5 286.5L354.7 284.2L354.7 273.6L354.9 274.9L354.9 286.1L355.2 286.7L355.2 276.6L355.4 276.2L355.4 288.7L355.6 288.1L355.6 275.9L355.8 275.6L355.8 287.4L356 284.5L356 276L356.2 276.8L356.2 285.7L356.5 285.1L356.5 279.7L356.7 279.4L356.7 285.2L356.9 287.3L356.9 279.6L357.1 279.8L357.1 286.8L357.3 286L357.3 278.5L357.5 277.4L357.5 288.3L357.8 287.7L357.8 277.2L358 275.3L358 287L358.2 284.1L358.2 272.9L358.4 272.2L358.4 281.2L358.6 280.2L358.6 272.8L358.8 273.9L358.8 280.7L359.1 279.4L359.1 272.2L359.3 273.5L359.3 280L359.5 279.6L359.5 271.7L359.7 270L359.7 279.5L359.9 282.4L359.9 269.9L360.1 270.5L360.1 281.2L360.4 280.7L360.4 269.7L360.6 272.3L360.6 281.1L360.8 277.4L360.8 270L361 271.3L361 280.7L361.2 280.4L361.2 270L361.4 271L361.4 280.5L361.6 282.2L361.6 272.5L361.9 271.7L361.9 282.2L362.1 283.2L362.1 274L362.3 275.7L362.3 282.7L362.5 282.3L362.5 275.1L362.7 274.8L362.7 283.3L362.9 283.3L362.9 274.3L363.2 273.6L363.2 288.9L363.4 283.9L363.4 274.3L363.6 274.3L363.6 285.4L363.8 285.6L363.8 276.3L364 277.3L364 286.5L364.2 289L364.2 279.8L364.5 280.3L364.5 288.2L364.7 292.9L364.7 280.5L364.9 281.6L364.9 287.8L365.1 288.7L365.1 281.2L365.3 281.9L365.3 289.6L365.5 290.4L365.5 282.1L365.8 281.9L365.8 291.9L366 293.8L366 279.7L366.2 280.8L366.2 290.9L366.4 289.8L366.4 280L366.6 281.6L366.6 294.7L366.8 290.9L366.8 280.5L367 281.4L367 289.6L367.3 291.9L367.3 281.5L367.5 281.3L367.5 289.8L367.7 288.5L367.7 281.7L367.9 276.7L367.9 287.5L368.1 290.6L368.1 276.7L368.3 275.6L368.3 286.7L368.6 282.5L368.6 273.2L368.8 272.3L368.8 282.5L369 280.5L369 270.9L369.2 269.2L369.2 278.1L369.4 276.9L369.4 268.5L369.6 266.8L369.6 274L369.9 274.9L369.9 264.6L370.1 266.9L370.1 279.1L370.3 276.2L370.3 265.7L370.5 266.8L370.5 279.6L370.7 277.7L370.7 267.7L370.9 269.7L370.9 277.3L371.2 277.5L371.2 268.2L371.4 269.6L371.4 277.6L371.6 279.2L371.6 270.1L371.8 271L371.8 279.3L372 280.7L372 272L372.2 272.1L372.2 283.3L372.5 281.9L372.5 273L372.7 272.2L372.7 284.3L372.9 283.4L372.9 273.4L373.1 273.1L373.1 283.6L373.3 283.1L373.3 274L373.5 273.7L373.5 286.5L373.7 284.7L373.7 275.6L374 275L374 284.8L374.2 285.7L374.2 273.1L374.4 277.6L374.4 286.2L374.6 285.8L374.6 277.7L374.8 278.7L374.8 286.4L375 287L375 277.5L375.3 278.4L375.3 287.3L375.5 290.9L375.5 277.7L375.7 279L375.7 290L375.9 292L375.9 279.8L376.1 279.9L376.1 290.4L376.3 289.5L376.3 278.3L376.6 278.1L376.6 287.4L376.8 285L376.8 275.7L377 274.5L377 290.1L377.2 283.6L377.2 273.8L377.4 271.3L377.4 283.9L377.6 282.9L377.6 272.3L377.9 269.3L377.9 282.1L378.1 281.9L378.1 269.9L378.3 271.7L378.3 283.3L378.5 281.3L378.5 272.4L378.7 269.1L378.7 281.2L378.9 282.1L378.9 271L379.2 273.5L379.2 284.3L379.4 283.5L379.4 273L379.6 271.7L379.6 287.6L379.8 282.3L379.8 273.6L380 274.6L380 284.9L380.2 284.9L380.2 275L380.4 275.3L380.4 284L380.7 284.7L380.7 276L380.9 276.6L380.9 285.3L381.1 285.9L381.1 275.2L381.3 276.6L381.3 286.4L381.5 285.9L381.5 275.8L381.7 276.9L381.7 286.4L382 287.2L382 275.6L382.2 276L382.2 288.9L382.4 287.1L382.4 275.9L382.6 277.4L382.6 289.1L382.8 286.9L382.8 275.4L383 277.1L383 285.7L383.3 286.6L383.3 277.2L383.5 280L383.5 287L383.7 286.3L383.7 279.7L383.9 279.3L383.9 286L384.1 287L384.1 279.7L384.3 278.9L384.3 286.1L384.6 284.2L384.6 278.2L384.8 275.3L384.8 283.1L385 283L385 276.2L385.2 275.7L385.2 283.1L385.4 282.6L385.4 276L385.6 273L385.6 282L385.9 282.7L385.9 274L386.1 276.8L386.1 283L386.3 282.6L386.3 275.8L386.5 273.8L386.5 285L386.7 281.1L386.7 274L386.9 273.7L386.9 283.8L387.1 286L387.1 272.7L387.4 272L387.4 280.8L387.6 284.3L387.6 272.4L387.8 271.6L387.8 284.1L388 284.5L388 274.4L388.2 275.4L388.2 285.6L388.4 285.8L388.4 275.2L388.7 275.7L388.7 284.9L388.9 286L388.9 276.1L389.1 277.5L389.1 286.9L389.3 288.2L389.3 277.3L389.5 276.8L389.5 288.3L389.7 290.7L389.7 275.7L390 275.5L390 287.1L390.2 286.4L390.2 275.5L390.4 276.7L390.4 286.2L390.6 285L390.6 273.9L390.8 274.6L390.8 284.1L391 282.1L391 273.1L391.3 272.4L391.3 282.6L391.5 281.9L391.5 270.5L391.7 269.5L391.7 280.4L391.9 278.5L391.9 266.1L392.1 267.1L392.1 278.8L392.3 279.4L392.3 266.3L392.5 266.4L392.5 278.4L392.8 275.8L392.8 266.3L393 265.5L393 280.8L393.2 275.3L393.2 266.4L393.4 265.4L393.4 275.1L393.6 272.4L393.6 264L393.8 262.1L393.8 274.1L394.1 271.8L394.1 260.8L394.3 260.1L394.3 272.6L394.5 273.5L394.5 261.2L394.7 262.5L394.7 275.8L394.9 272.1L394.9 260.2L395.1 262.9L395.1 272.3L395.4 269.6L395.4 260.6L395.6 261.8L395.6 269.7L395.8 270.6L395.8 261.5L396 259.2L396 267L396.2 264.9L396.2 258.3L396.4 258.4L396.4 265.7L396.7 266.3L396.7 256.8L396.9 255.4L396.9 266L397.1 264.9L397.1 255.4L397.3 254.8L397.3 265.5L397.5 264.5L397.5 253.6L397.7 251.1L397.7 263.9L398 261.2L398 249.1L398.2 248.9L398.2 262.8L398.4 266.3L398.4 251.4L398.6 251L398.6 260.7L398.8 261L398.8 249L399 250.3L399 259.7L399.2 257.8L399.2 248L399.5 247.5L399.5 257.8L399.7 255.8L399.7 245L399.9 243.6L399.9 255.3L400.1 254.3L400.1 243.4L400.3 242L400.3 255.8L400.5 255.7L400.5 239.9L400.8 241L400.8 252.4L401 253.4L401 238L401.2 240.7L401.2 251.4L401.4 249.8L401.4 238.1L401.6 234.2L401.6 249.5L401.8 253.2L401.8 237.9L402.1 238.1L402.1 249.8L402.3 246.5L402.3 235.8L402.5 235.5L402.5 249.7L402.7 245.6L402.7 233.9L402.9 231.9L402.9 254.9L403.1 242.9L403.1 230.3L403.4 228.4L403.4 248.1L403.6 243L403.6 231.3L403.8 228.4L403.8 241.6L404 241.6L404 229.4L404.2 229.7L404.2 240.3L404.4 242.2L404.4 232.1L404.7 232.5L404.7 240.4L404.9 239.9L404.9 228.8L405.1 227.2L405.1 239.8L405.3 239.9L405.3 228.8L405.5 228.7L405.5 242.9L405.7 239.6L405.7 229.8L405.9 229.3L405.9 241.6L406.2 240L406.2 226.7L406.4 228.5L406.4 241.4L406.6 241.9L406.6 227.1L406.8 229.9L406.8 243.8L407 236.9L407 228.6L407.2 225.1L407.2 237.7L407.5 237.1L407.5 224.9L407.7 221.3L407.7 236L407.9 238L407.9 225.5L408.1 220.5L408.1 234.6L408.3 241L408.3 223.8L408.5 225.7L408.5 240.7L408.8 248.7L408.8 228.2L409 225L409 245.7L409.2 240.9L409.2 224.6L409.4 222.2L409.4 240.8L409.6 234.9L409.6 221.1L409.8 216.9L409.8 236.3L410.1 235.4L410.1 217.7L410.3 220.6L410.3 231.9L410.5 235.4L410.5 221.1L410.7 220.7L410.7 231.8L410.9 229.8L410.9 217.6L411.1 218.5L411.1 241L411.4 230.4L411.4 213.3L411.6 216.7L411.6 236.3L411.8 231.8L411.8 215.2L412 214.8L412 225.7L412.2 225.5L412.2 212L412.4 214.5L412.4 224.5L412.6 227L412.6 215.2L412.9 212.6L412.9 223.4L413.1 226.9L413.1 211.7L413.3 212.2L413.3 221.8L413.5 220L413.5 211.2L413.7 206.4L413.7 222.7L413.9 220.9L413.9 210.4L414.2 209.3L414.2 224.2L414.4 224L414.4 206.4L414.6 209.6L414.6 223.3L414.8 225.1L414.8 202.9L415 209.2L415 221.7L415.2 223.5L415.2 207.1L415.5 206.3L415.5 221.2L415.7 221.7L415.7 207.3L415.9 206.7L415.9 220.2L416.1 222.7L416.1 205.3L416.3 205.2L416.3 222.2L416.5 221.6L416.5 205.3L416.8 202.2L416.8 216L417 216.9L417 201.7L417.2 201.1L417.2 213.4L417.4 212.5L417.4 196L417.6 197.9L417.6 228.4L417.8 216.4L417.8 193.2L418 200.3L418 212L418.3 215.5L418.3 199.8L418.5 200.4L418.5 223.3L418.7 213L418.7 201.9L418.9 203.6L418.9 216.3L419.1 214.6L419.1 204.9L419.3 203.4L419.3 217.9L419.6 222.7L419.6 206.6L419.8 209.4L419.8 225.5L420 218L420 207.9L420.2 201.5L420.2 218.2L420.4 217.7L420.4 203.7L420.6 203.8L420.6 219.4L420.9 220.1L420.9 202L421.1 205L421.1 218.1L421.3 217.8L421.3 202.8L421.5 204.4L421.5 215.4L421.7 217.6L421.7 203.5L421.9 200L421.9 215.1L422.2 213.3L422.2 199.5L422.4 197.6L422.4 220.2L422.6 214.7L422.6 202.3L422.8 203.8L422.8 231.3L423 220.6L423 204.9L423.2 207.3L423.2 221.4L423.5 227.1L423.5 210.1L423.7 206.6L423.7 223.8L423.9 223.8L423.9 208.5L424.1 209.8L424.1 224.1L424.3 228.3L424.3 210.6L424.5 209.9L424.5 223.7L424.7 221.1L424.7 209.7L425 208.4L425 220.6L425.2 226.2L425.2 208.5L425.4 211.1L425.4 224.5L425.6 227.9L425.6 215.5L425.8 218.5L425.8 230.6L426 230.3L426 219.3L426.3 217.8L426.3 229.2L426.5 230.3L426.5 218.7L426.7 217.9L426.7 230.7L426.9 230.1L426.9 217.2L427.1 213.1L427.1 224.4L427.3 250L427.3 212L427.6 213L427.6 250L427.8 250L427.8 209.9L428 201.7L428 250L428.2 250L428.2 172L428.4 172L428.4 250L428.6 250L428.6 172L428.9 172L428.9 221.4L429.1 222.5L429.1 172L429.3 172L429.3 223.8L429.5 224.8L429.5 172L429.7 172L429.7 227.4L429.9 223.8L429.9 172L430.2 172L430.2 225.2L430.4 226.1L430.4 172L430.6 172L430.6 230.2L430.8 232.8L430.8 172L431 172L431 244.8L431.2 231.5L431.2 172L431.4 172L431.4 233L431.7 232.6L431.7 172L431.9 172L431.9 233.1L432.1 235.8L432.1 223.7L432.3 227.4L432.3 235.6L432.5 235.9L432.5 224.5L432.7 221.6L432.7 237.1L433 250.1L433 226.2L433.2 223.1L433.2 241.1L433.4 241.2L433.4 229.1L433.6 226.7L433.6 240.2L433.8 245.5L433.8 226.6L434 228L434 239.3L434.3 238.4L434.3 226.5L434.5 221.5L434.5 239L434.7 236.7L434.7 223.4L434.9 224.7L434.9 237.8L435.1 238.8L435.1 226.1L435.3 226L435.3 236.8L435.6 236.4L435.6 222.4L435.8 226.7L435.8 242.4L436 242.9L436 226.7L436.2 228L436.2 242L436.4 243.7L436.4 227.1L436.6 225.9L436.6 246.4L436.8 237.7L436.8 222.5L437.1 224.4L437.1 246L437.3 237.2L437.3 224.9L437.5 222.7L437.5 237.1L437.7 242.6L437.7 224.1L437.9 225.6L437.9 276L438.1 276L438.1 225.7L438.4 228.1L438.4 276L438.6 276L438.6 226.1L438.8 225.6L438.8 276L439 276L439 228.6L439.2 223L439.2 276L439.4 276L439.4 229.5L439.7 229.2L439.7 276L439.9 276L439.9 232L440.1 232.6L440.1 276L440.3 276L440.3 236.3L440.5 236.4L440.5 276L440.7 276L440.7 232.7L441 237.5L441 247.9L441.2 248.7L441.2 234.4L441.4 227.4L441.4 244.2L441.6 238.5L441.6 226.1L441.8 223.8L441.8 234.9L442 231.4L442 220.7L442.3 216.2L442.3 234.9L442.5 231.4L442.5 218.4L442.7 216L442.7 233.3L442.9 241.8L442.9 214.6L443.1 212.5L443.1 224L443.3 222.6L443.3 184L443.5 184L443.5 219.3L443.8 222.5L443.8 184L444 184L444 217.6L444.2 219.5L444.2 184L444.4 184L444.4 222.2L444.6 224.8L444.6 214.6L444.8 215.7L444.8 225.7L445.1 227.9L445.1 216.7L445.3 217.8L445.3 226.7L445.5 226.8L445.5 218.9L445.7 219.8L445.7 229.3L445.9 262L445.9 220.2L446.1 219.8L446.1 262L446.4 262L446.4 221.8L446.6 212.9L446.6 262L446.8 262L446.8 224.7L447 225.3L447 262L447.2 238.2L447.2 221.2L447.4 227.3L447.4 241.5L447.7 239.7L447.7 227.8L447.9 228.2L447.9 236.6L448.1 239.7L448.1 227.1L448.3 224.7L448.3 236L448.5 237L448.5 224.9L448.7 224.3L448.7 238.5L449 235.2L449 222.8L449.2 220.3L449.2 234.1L449.4 236.1L449.4 220.5L449.6 220.8L449.6 233.5L449.8 240.1L449.8 221.1L450 217.6L450 237.5L450.2 232.1L450.2 217.4L450.5 219.1L450.5 235.9L450.7 234.8L450.7 215.9L450.9 220.8L450.9 239.1L451.1 232.5L451.1 221.9L451.3 223.3L451.3 237.9L451.5 238.9L451.5 220.4L451.8 222.1L451.8 239.8L452 234.5L452 220.9L452.2 222.2L452.2 239L452.4 232.6L452.4 217.4L452.6 219.8L452.6 233.3L452.8 242.7L452.8 219.9L453.1 220.5L453.1 234.8L453.3 236.4L453.3 221.8L453.5 223.2L453.5 236.9L453.7 238.2L453.7 223.1L453.9 226.8L453.9 239.3L454.1 240.8L454.1 226.6L454.4 225.2L454.4 245.8L454.6 244L454.6 230.7L454.8 232.5L454.8 250L455 246L455 233.3L455.2 235.2L455.2 257.7L455.4 245.6L455.4 234.8L455.7 234.8L455.7 248.8L455.9 254.9L455.9 232.9L456.1 232.3L456.1 247.7L456.3 245.6L456.3 233L456.5 230.5L456.5 246.6L456.7 244.7L456.7 232.1L456.9 227.8L456.9 241.9L457.2 238.3L457.2 222.3L457.4 218.2L457.4 240.1L457.6 238.3L457.6 224L457.8 222.7L457.8 238.1L458 234.9L458 219.8L458.2 217.1L458.2 235.6L458.5 232L458.5 214.7L458.7 216.2L458.7 232.6L458.9 227.5L458.9 215.8L459.1 208.2L459.1 229.2L459.3 233.9L459.3 209.8L459.5 213.4L459.5 223.8L459.8 222.1L459.8 211.3L460 211.2L460 221.5L460.2 217.1L460.2 208.9L460.4 207.2L460.4 221.2L460.6 220L460.6 205.9L460.8 204.8L460.8 215.5L461.1 214.5L461.1 200.8L461.3 200.4L461.3 213.5L461.5 212.6L461.5 201L461.7 203L461.7 213.7L461.9 220.8L461.9 203.1L462.1 203.6L462.1 218.6L462.3 215.9L462.3 208L462.6 211.8L462.6 227.6L462.8 230.9L462.8 214.9L463 208.5L463 225.3L463.2 230.2L463.2 217L463.4 219.5L463.4 231.5L463.6 234.4L463.6 220.3L463.9 220.7L463.9 233.4L464.1 231.6L464.1 218.7L464.3 220.8L464.3 236.2L464.5 236.1L464.5 221.8L464.7 223.9L464.7 234.6L464.9 237.9L464.9 222.9L465.2 225.3L465.2 239.7L465.4 240.5L465.4 224.8L465.6 225.9L465.6 239.7L465.8 241.4L465.8 227.6L466 229.1L466 238.3L466.2 238.1L466.2 224.4L466.5 225.3L466.5 241.2L466.7 240.9L466.7 226.5L466.9 225.5L466.9 235.7L467.1 236.3L467.1 223.9L467.3 221.9L467.3 244.1L467.5 234.1L467.5 219.8L467.8 220.2L467.8 235.2L468 235.1L468 217.8L468.2 218.1L468.2 234.2L468.4 230.2L468.4 216.7L468.6 216.1L468.6 231L468.8 229.2L468.8 214.9L469 216.3L469 227.6L469.3 226.9L469.3 215.3L469.5 213.8L469.5 228.8L469.7 226.4L469.7 211.7L469.9 211.1L469.9 224.6L470.1 240.5L470.1 213.8L470.3 213.4L470.3 229.3L470.6 224.9L470.6 213.2L470.8 215L470.8 231.8L471 227.7L471 214.7L471.2 212.8L471.2 227.4L471.4 224.6L471.4 212.5L471.6 211.3L471.6 226.3L471.9 230.3L471.9 211.6L472.1 208.8L472.1 224.5L472.3 223.2L472.3 201.6L472.5 210.2L472.5 222.7L472.7 229.6L472.7 211L472.9 213.8L472.9 226.3L473.2 225.9L473.2 214.3L473.4 216.4L473.4 226.4L473.6 232.2L473.6 216.5L473.8 217.8L473.8 234.8L474 230.7L474 218.2L474.2 219.4L474.2 240.7L474.5 233.9L474.5 220.2L474.7 219.8L474.7 241.4L474.9 237.3L474.9 223L475.1 222L475.1 237.1L475.3 236.1L475.3 222.1L475.5 221.9L475.5 233.1L475.7 235.1L475.7 218.7L476 218.6L476 233.4L476.2 231.2L476.2 215.6L476.4 216.5L476.4 229.2L476.6 225.7L476.6 212.7L476.8 213.2L476.8 228.3L477 231.4L477 214.1L477.3 214.6L477.3 231.9L477.5 233.2L477.5 216.2L477.7 215.9L477.7 229.8L477.9 230L477.9 215.8L478.1 216.6L478.1 230.6L478.3 232L478.3 218L478.6 219.9L478.6 232.6L478.8 233.2L478.8 217.3L479 218.5L479 229.6L479.2 238.2L479.2 221.5L479.4 223.1L479.4 233.7L479.6 234.4L479.6 220.3L479.9 225.9L479.9 234.9L480.1 240.7L480.1 222.6L480.3 224.9L480.3 237.8L480.5 248L480.5 223.7L480.7 221.3L480.7 234.2L480.9 239.8L480.9 220.6L481.2 217.9L481.2 242.2L481.4 225.7L481.4 216.7L481.6 216L481.6 235L481.8 226.6L481.8 214.8L482 214.3L482 235.5L482.2 234.3L482.2 212.4L482.4 214.4L482.4 225L482.7 223L482.7 208.3L482.9 210.3L482.9 223.9L483.1 220.8L483.1 210L483.3 210.2L483.3 225.6L483.5 223.6L483.5 207L483.7 207.7L483.7 225.5L484 227.2L484 209.1L484.2 212L484.2 223.9L484.4 226.4L484.4 207.8L484.6 210.9L484.6 230L484.8 222.8L484.8 211L485 210.1L485 225.4L485.3 231.8L485.3 209.5L485.5 201.7L485.5 219.2L485.7 218.8L485.7 205.7L485.9 206.6L485.9 220.4L486.1 219.2L486.1 205.5L486.3 206.9L486.3 220L486.6 219.9L486.6 207.4L486.8 210.8L486.8 223.4L487 227.2L487 214.7L487.2 213.4L487.2 224.1L487.4 232.3L487.4 215.4L487.6 214.6L487.6 228.3L487.8 225.9L487.8 211.3L488.1 215.9L488.1 225.3L488.3 229.9L488.3 213.5L488.5 217.6L488.5 228.6L488.7 230.5L488.7 218.3L488.9 217.6L488.9 229.8L489.1 230.8L489.1 218L489.4 216L489.4 230L489.6 230.2L489.6 216.4L489.8 218.3L489.8 235.9L490 241.6L490 216.2L490.2 220.2L490.2 250.4L490.4 235.4L490.4 221.6L490.7 219.7L490.7 251.7L490.9 242.5L490.9 222.3L491.1 223.4L491.1 236.9L491.3 235.7L491.3 225.1L491.5 224.5L491.5 236.9L491.7 232.9L491.7 221.6L492 222.9L492 231.8L492.2 234.8L492.2 221.9L492.4 219L492.4 232.9L492.6 227.9L492.6 210L492.8 217.5L492.8 228.5L493 228.3L493 215.8L493.3 212.3L493.3 232.8L493.5 238.5L493.5 216.8L493.7 215.3L493.7 226.5L493.9 229.5L493.9 214.8L494.1 214.4L494.1 236.1L494.3 226.6L494.3 216.2L494.5 214.2L494.5 229.7L494.8 226.5L494.8 213L495 212.1L495 226.9L495.2 224.7L495.2 210.8L495.4 209.3L495.4 229.1L495.6 223.2L495.6 206.9L495.8 208.7L495.8 224.7L496.1 228.6L496.1 208.1L496.3 209.3L496.3 220L496.5 224.9L496.5 211.1L496.7 208.5L496.7 225.3L496.9 220.5L496.9 210.4L497.1 211.6L497.1 228.2L497.4 223.5L497.4 207.3L497.6 213.4L497.6 219.6L497.8 220.7L497.8 207.9L498 211L498 223.8L498.2 228.8L498.2 215L498.4 215.4L498.4 228.8L498.7 227.1L498.7 215.5L498.9 207.1L498.9 230.3L499.1 228.3L499.1 213.9L499.3 215L499.3 227.7L499.5 232.3L499.5 215.1L499.7 206.6L499.7 231.8L500 228.4L500 209.9L500.2 211.5L500.2 232.8L500.4 225.9L500.4 211.8L500.6 210.9L500.6 224.5L500.8 223.9L500.8 212.8L501 211.4L501 224.7L501.2 221.8L501.2 211.2L501.5 208.8L501.5 223.9L501.7 224.4L501.7 205.8L501.9 205.9L501.9 236.6L502.1 223.1L502.1 209.5L502.3 207.1L502.3 221.3L502.5 219.8L502.5 208L502.8 209.3L502.8 225.6L503 221.6L503 207.6L503.2 208.9L503.2 221.4L503.4 219.1L503.4 205.5L503.6 206.2L503.6 222.7L503.8 220L503.8 203L504.1 205L504.1 217.7L504.3 219.2L504.3 205.2L504.5 203.2L504.5 222.1L504.7 218.9L504.7 203.4L504.9 208.1L504.9 221.4L505.1 221.4L505.1 210.5L505.4 212.3L505.4 222.4L505.6 225.7L505.6 209.1L505.8 207.5L505.8 230.3L506 224.9L506 213.7L506.2 213.9L506.2 224.3L506.4 230.7L506.4 211.9L506.7 215.6L506.7 231.1L506.9 231.5L506.9 218.6L507.1 218.5L507.1 230.5L507.3 235.9L507.3 221.4L507.5 219.8L507.5 231.5L507.7 240.1L507.7 222L507.9 222.2L507.9 234.3L508.2 231.3L508.2 220.2L508.4 218.4L508.4 237.1L508.6 232.7L508.6 216.7L508.8 213.9L508.8 240.6L509 234.6L509 216L509.2 213.5L509.2 231L509.5 222.7L509.5 208.7L509.7 210.1L509.7 229.7L509.9 223.6L509.9 211.9L510.1 211.7L510.1 222L510.3 230.3L510.3 211.2L510.5 211.6L510.5 224.6L510.8 223.8L510.8 213.4L511 212.9L511 228.2L511.2 225.8L511.2 213.2L511.4 211.3L511.4 225.1L511.6 225.1L511.6 210.6L511.8 210.7L511.8 224.3L512.1 227.4L512.1 209.1L512.3 210L512.3 226.2L512.5 224L512.5 203.4L512.7 208.5L512.7 220.8L512.9 221L512.9 207.6L513.1 207.3L513.1 220.4L513.3 221L513.3 209.8L513.6 207.9L513.6 220.6L513.8 222.1L513.8 207.6L514 211.4L514 226.9L514.2 225.7L514.2 211.8L514.4 213.1L514.4 229.6L514.6 232.3L514.6 202.8L514.9 211.5L514.9 229.6L515.1 227.5L515.1 213.3L515.3 211L515.3 230.8L515.5 226.4L515.5 207L515.7 211.1L515.7 228.8L515.9 228.4L515.9 209.9L516.2 211.9L516.2 224.8L516.4 227.2L516.4 210.9L516.6 209.4L516.6 225.8L516.8 226.6L516.8 211.5L517 212.2L517 226.2L517.2 224L517.2 214.6L517.5 214.6L517.5 225.8L517.7 234.9L517.7 214.2L517.9 213.4L517.9 222.9L518.1 224.9L518.1 213L518.3 210.3L518.3 220.3L518.5 222.1L518.5 208.3L518.8 209L518.8 222.2L519 219.2L519 208.5L519.2 210L519.2 221.6" stroke="#ff7f0e"/>
<path d="M95.8 216L95.9 201.4L147.5 204L148.9 198.1L148.9 202.1L149.2 201.5L149.2 198L149.5 197.6L149.5 201.9L149.9 201.6L149.9 197.4L150.2 197.2L150.2 201.6L150.6 201.6L150.6 195.8L150.9 196.4L150.9 202.6L151.3 202.3L151.3 195.8L151.6 195.4L151.6 201.9L152 201.6L152 194.9L152.3 196.1L152.3 201.3L152.7 200.6L152.7 195.8L153 195.5L153 200.7L153.3 200.6L153.3 195.4L153.7 195.5L153.7 201L154 202.4L154 196.1L154.4 196.9L154.4 203.6L154.7 204.3L154.7 197.4L155.1 197.3L155.1 205.1L155.4 205.7L155.4 198.2L155.8 197.8L155.8 204.6L156.1 202.3L156.1 195.7L156.5 193.3L156.5 200.5L156.8 198.3L156.8 191.4L157.2 189.3L157.2 195.5L157.5 194.7L157.5 188L157.8 186.5L157.8 193.3L158.2 191.5L158.2 186.2L158.5 186.5L158.5 192.3L158.9 194.9L158.9 188L159.2 190L159.2 197.3L159.6 198.4L159.6 190.9L159.9 193.9L159.9 201.2L160.3 203.7L160.3 195.9L160.6 198L160.6 205L161 207L161 200.4L161.3 201.7L161.3 209L161.6 210.2L161.6 201.6L162 203.1L162 210.4L162.3 209.5L162.3 202.3L162.7 202.7L162.7 209.7L163 210.2L163 203.4L163.4 204L163.4 211.2L163.7 212L163.7 203.9L164.1 203.8L164.1 213.1L164.4 214.3L164.4 204L164.8 204L164.8 213.9L165.1 211.5L165.1 203.3L165.4 201.8L165.4 209.6L165.8 207.7L165.8 200L166.1 198.5L166.1 205.5L166.5 204.7L166.5 198.3L166.8 196.7L166.8 203.8L167.2 202.2L167.2 196.9L167.5 195.3L167.5 200.6L167.9 197.4L167.9 192.3L168.2 191.5L168.2 196.8L168.6 198.1L168.6 192.6L168.9 193.1L168.9 199.8L169.3 200.3L169.3 193.2L169.6 195.2L169.6 201.5L169.9 203.3L169.9 197.5L170.3 200.3L170.3 206.5L170.6 209.2L170.6 201.8L171 204.9L171 211.3L171.3 212.5L171.3 205L171.7 206.7L171.7 215.6L172 216.2L172 208.1L172.4 206.5L172.4 213.8L172.7 211.1L172.7 204.1L173.1 203.2L173.1 210.5L173.4 207.5L173.4 201.1L173.7 198.9L173.7 206.8L174.1 207.1L174.1 200L174.4 197.9L174.4 205.4L174.8 204.4L174.8 197.4L175.1 195.3L175.1 203.3L175.5 200.7L175.5 194.1L175.8 195L175.8 202L176.2 203.5L176.2 196.1L176.5 195.6L176.5 204L176.9 207L176.9 199.1L177.2 201.3L177.2 209.2L177.6 212.3L177.6 204.6L177.9 206L177.9 214.3L178.2 216.3L178.2 209.2L178.6 211.2L178.6 217.8L178.9 219.2L178.9 212.7L179.3 211.6L179.3 218.7L179.6 217.3L179.6 210.4L180 208.9L180 215.8L180.3 215.6L180.3 208.5L180.7 206.4L180.7 214.5L181 212.2L181 204.1L181.4 202L181.4 209.3L181.7 208.8L181.7 200.6L182 199.3L182 208L182.4 205L182.4 196.9L182.7 195.9L182.7 203.8L183.1 203.8L183.1 195.5L183.4 195.5L183.4 203.2L183.8 203.3L183.8 195.7L184.1 195.4L184.1 203.2L184.5 202.1L184.5 194.6L184.8 193.7L184.8 200.8L185.2 199.9L185.2 191.7L185.5 190.2L185.5 198.9L185.8 199L185.8 189.7L186.2 189.4L186.2 198.1L186.5 198.2L186.5 189.6L186.9 190.7L186.9 198.2L187.2 199.1L187.2 192L187.6 193.6L187.6 198.5L187.9 200.1L187.9 194.4L188.3 195L188.3 201.1L188.6 202.6L188.6 196.9L189 197.9L189 203.2L189.3 205L189.3 198.2L189.7 200L189.7 207L190 210L190 202.3L190.3 201.9L190.3 211.5L190.7 212.5L190.7 202.7L191 203.9L191 214.6L191.4 215.4L191.4 204.4L191.7 204.8L191.7 215.4L192.1 216.3L192.1 206.6L192.4 206.9L192.4 217.7L192.8 217L192.8 207.4L193.1 205.8L193.1 215.2L193.5 213.1L193.5 204.3L193.8 202L193.8 211.2L194.1 209.1L194.1 200.7L194.5 197.9L194.5 206.7L194.8 204.7L194.8 196.5L195.2 194.9L195.2 203.6L195.5 201.2L195.5 194.2L195.9 191.6L195.9 198.3L196.2 197.5L196.2 190.2L196.6 187.7L196.6 196.4L196.9 198.5L196.9 190.3L197.3 192.1L197.3 201.3L197.6 202.8L197.6 194.2L198 197.2L198 204.4L198.3 207L198.3 201L198.6 203L198.6 209.4L199 212.8L199 206L199.3 205.4L199.3 212.7L199.7 213.3L199.7 204.8L200 203.3L200 211.3L200.4 209.2L200.4 202.3L200.7 201.6L200.7 208L201.1 207.7L201.1 200.7L201.4 199.5L201.4 205.5L201.8 206L201.8 200.4L202.1 198.4L202.1 204.7L202.4 203.2L202.4 196.9L202.8 196.6L202.8 202.4L203.1 201.6L203.1 195.8L203.5 195.4L203.5 201.9L203.8 202.7L203.8 195.7L204.2 194.4L204.2 202L204.5 201.2L204.5 193.5L204.9 194.6L204.9 203L205.2 203.6L205.2 194.6L205.6 194.5L205.6 202.8L205.9 202.5L205.9 194.3L206.2 194.3L206.2 202.7L206.6 202.8L206.6 193.2L206.9 193.9L206.9 204L207.3 205L207.3 194.6L207.6 194.7L207.6 205.3L208 206.5L208 196.6L208.3 198.1L208.3 206.6L208.7 207.9L208.7 199.7L209 200.5L209 208.3L209.4 210.5L209.4 201.7L209.7 202.8L209.7 212.3L210.1 212.3L210.1 201.9L210.4 201.4L210.4 211.6L210.7 210.7L210.7 200.9L211.1 199.2L211.1 207.2L211.4 206.4L211.4 198.2L211.8 199.2L211.8 206.5L212.1 205.1L212.1 198.1L212.5 198L212.5 206L212.8 205.7L212.8 197L213.2 195.7L213.2 203.6L213.5 202.8L213.5 194.8L213.9 194.9L213.9 201.8L214.2 203.1L214.2 196.2L214.5 197.6L214.5 203.5L214.9 203.5L214.9 198L215.2 198.7L215.2 204.8L215.6 206.8L215.6 198.8L215.9 198L215.9 205.7L216.3 206L216.3 197.6L216.6 196.7L216.6 206.4L217 205.3L217 196.5L217.3 197.6L217.3 205.9L217.7 207.6L217.7 199.2L218 201.7L218 209.5L218.4 210.9L218.4 203.1L218.7 205.9L218.7 213.6L219 214L219 205.7L219.4 208.1L219.4 217L219.7 217.8L219.7 208.5L220.1 208.6L220.1 217.7L220.4 215.9L220.4 207.2L220.8 206.6L220.8 214L221.1 211L221.1 204.2L221.5 204.5L221.5 211.2L221.8 208.2L221.8 201.9L222.2 200.5L222.2 207.9L222.5 206.7L222.5 199.1L222.8 196.3L222.8 203.4L223.2 201.4L223.2 193.9L223.5 193.7L223.5 201.1L223.9 199.8L223.9 192.5L224.2 195.1L224.2 201.8L224.6 202.8L224.6 195.1L224.9 196L224.9 204.3L225.3 206.5L225.3 197.7L225.6 199.6L225.6 208.8L226 211.7L226 200.7L226.3 201.3L226.3 212.2L226.6 213.4L226.6 202.7L227 204.1L227 214.9L227.3 217.5L227.3 207.6L227.7 207.6L227.7 216.6L228 215L228 206L228.4 204.8L228.4 214.1L228.7 212.8L228.7 204.5L229.1 201.1L229.1 210.9L229.4 210.5L229.4 199.2L229.8 198.9L229.8 210.4L230.1 211.1L230.1 200.6L230.5 201.3L230.5 213.2L230.8 213.7L230.8 202L231.1 201.1L231.1 213.6L231.5 212.8L231.5 200.4L231.8 200.7L231.8 213.6L232.2 213.6L232.2 200.2L232.5 199.6L232.5 212.6L232.9 210L232.9 196.9L233.2 197.5L233.2 212.6L233.6 212.6L233.6 196.8L233.9 195.5L233.9 211.3L234.3 210.8L234.3 195.4L234.6 194.4L234.6 209.4L234.9 207.9L234.9 193.7L235.3 193.2L235.3 207.9L235.6 207.1L235.6 193.2L236 194.8L236 209.3L236.3 209.7L236.3 196.8L236.7 194.9L236.7 208.9L237 211.8L237 198.6L237.4 199.3L237.4 213.8L237.7 215.2L237.7 201.3L238.1 201.1L238.1 215.7L238.4 217.2L238.4 203.6L238.8 201.9L238.8 217.1L239.1 216.8L239.1 201.8L239.4 198L239.4 214.6L239.8 213.1L239.8 195.4L240.1 196.2L240.1 212.3L240.5 211.1L240.5 195.4L240.8 193.4L240.8 209.6L241.2 212.5L241.2 196.3L241.5 196.2L241.5 212L241.9 211.9L241.9 194.5L242.2 195.1L242.2 212.1L242.6 211.4L242.6 195.9L242.9 195.9L242.9 211.1L243.2 211.3L243.2 195.1L243.6 196.8L243.6 212.3L243.9 212.3L243.9 197.8L244.3 197.2L244.3 212.1L244.6 210L244.6 196L245 197.3L245 208.9L245.3 209.7L245.3 198.2L245.7 198L245.7 211.2L246 211.3L246 199.1L246.4 202.5L246.4 216.3L246.7 219.2L246.7 204L247 206.5L247 222.1L247.4 221.2L247.4 207.4L247.7 208.1L247.7 222.8L248.1 221.8L248.1 208.7L248.4 208.6L248.4 221.8L248.8 218.5L248.8 205.9L249.1 204.4L249.1 218.9L249.5 217L249.5 202.3L249.8 202.1L249.8 217.5L250.2 214.7L250.2 199.8L250.5 200.8L250.5 214.4L250.9 213.9L250.9 201.9L251.2 202L251.2 213.8L251.5 211.7L251.5 201.3L251.9 204.5L251.9 214.1L252.2 215.4L252.2 203.2L252.6 205.8L252.6 218L252.9 220L252.9 207.4L253.3 206.7L253.3 219.9L253.6 218.5L253.6 204.8L254 208.7L254 221.4L254.3 221.4L254.3 208.2L254.7 207.3L254.7 222L255 223.9L255 207.9L255.3 208.5L255.3 223.6L255.7 222.8L255.7 208.7L256 211.2L256 227L256.4 224.3L256.4 209.1L256.7 208.1L256.7 222.9L257.1 221.3L257.1 204.5L257.4 201.9L257.4 219.2L257.8 218.3L257.8 202.5L258.1 203.6L258.1 218.6L258.5 214.9L258.5 202.2L258.8 204.5L258.8 216.3L259.2 216.4L259.2 206L259.5 206.6L259.5 215.8L259.8 218.4L259.8 209.5L260.2 211L260.2 221.1L260.5 219.2L260.5 209.6L260.9 208.8L260.9 220.3L261.2 220L261.2 206.2L261.6 206L261.6 220.4L261.9 221.2L261.9 207.6L262.3 206.5L262.3 220.4L262.6 221.1L262.6 206.8L263 209.6L263 222.4L263.3 223L263.3 209.5L263.6 211.3L263.6 226.5L264 225.3L264 212.3L264.3 212.4L264.3 225L264.7 227.7L264.7 215.4L265 213.3L265 226.9L265.4 226.6L265.4 213.6L265.7 212.8L265.7 227.4L266.1 227.1L266.1 211.7L266.4 213.6L266.4 229.1L266.8 227L266.8 213.2L267.1 210.2L267.1 225.4L267.4 227.1L267.4 211.3L267.8 212.6L267.8 226.8L268.1 225.2L268.1 211L268.5 208.8L268.5 223.4L268.8 223.2L268.8 209.5L269.2 211.6L269.2 226.3L269.5 226.6L269.5 210.9L269.9 211.4L269.9 228.7L270.2 230.1L270.2 213.4L270.6 214.5L270.6 231L270.9 229.3L270.9 214.4L271.3 216.2L271.3 230.9L271.6 231.8L271.6 217.5L271.9 217.7L271.9 233.1L272.3 230.7L272.3 215.1L272.6 215.2L272.6 230L273 231.1L273 216.2L273.3 220.1L273.3 231.4L273.7 228.7L273.7 219.7L274 218.4L274 227.6L274.4 226.2L274.4 216.8L274.7 215.6L274.7 223.1L275.1 225.2L275.1 216.1L275.4 213.4L275.4 224.8L275.7 226.8L275.7 215.3L276.1 216.6L276.1 228.7L276.4 229.1L276.4 214.9L276.8 216.5L276.8 232.8L277.1 234.9L277.1 218.7L277.5 220.5L277.5 236.4L277.8 237.2L277.8 220.6L278.2 221.6L278.2 238.5L278.5 237.4L278.5 222.5L278.9 227.3L278.9 241.2L279.2 241.1L279.2 227.5L279.6 228.4L279.6 241.6L279.9 239.6L279.9 226.9L280.2 226.8L280.2 241.9L280.6 241.1L280.6 225.2L280.9 223.3L280.9 240.6L281.3 238.7L281.3 221.2L281.6 220.4L281.6 237.5L282 235.1L282 221.7L282.3 222.4L282.3 235.4L282.7 234.6L282.7 221.6L283 223.4L283 236.8L283.4 236.7L283.4 222.3L283.7 221.5L283.7 236.9L284 237.9L284 222.8L284.4 223.7L284.4 236.6L284.7 236.1L284.7 223.9L285.1 225.8L285.1 236.5L285.4 238.7L285.4 227.5L285.8 231.2L285.8 240.9L286.1 241.8L286.1 230.3L286.5 230.2L286.5 243L286.8 245.1L286.8 231.6L287.2 232.3L287.2 245.6L287.5 246.9L287.5 230L287.8 228.8L287.8 245L288.2 245.5L288.2 229.1L288.5 229.2L288.5 246.9L288.9 247.5L288.9 227.2L289.2 225.1L289.2 244L289.6 244.3L289.6 225.5L289.9 225.3L289.9 242.8L290.3 239.7L290.3 222L290.6 219.3L290.6 236L291 235.6L291 218.3L291.3 221.1L291.3 238.1L291.7 239.5L291.7 221.9L292 220.5L292 238L292.3 236.7L292.3 220.7L292.7 224L292.7 239.1L293 239.2L293 223.6L293.4 223.7L293.4 239.5L293.7 240.1L293.7 225.1L294.1 226.2L294.1 241.4L294.4 242.2L294.4 227.3L294.8 228.4L294.8 244.5L295.1 242L295.1 226.6L295.5 226.7L295.5 241.5L295.8 244.5L295.8 228.3L296.1 227.5L296.1 244.8L296.5 244.6L296.5 231.4L296.8 234.1L296.8 246.2L297.2 245.3L297.2 232.2L297.5 232.9L297.5 244.9L297.9 244.3L297.9 234.3L298.2 233.5L298.2 247.2L298.6 249L298.6 234.3L298.9 230.8L298.9 244L299.3 240.6L299.3 226.6L299.6 228.8L299.6 242.3L300 242.8L300 229.5L300.3 229.1L300.3 242.2L300.6 241.6L300.6 228.5L301 227.7L301 241.6L301.3 244.5L301.3 230.2L301.7 232.1L301.7 244.9L302 247.3L302 233.3L302.4 232.9L302.4 248.2L302.7 249.8L302.7 235.2L303.1 236.7L303.1 251.7L303.4 251.4L303.4 235.1L303.8 236.3L303.8 251.1L304.1 252.1L304.1 237.8L304.4 239.9L304.4 252.8L304.8 254.8L304.8 240.7L305.1 240.1L305.1 254.8L305.5 254L305.5 237.1L305.8 236.4L305.8 253.7L306.2 251.2L306.2 233L306.5 233.6L306.5 252.2L306.9 249.2L306.9 232.7L307.2 230.3L307.2 244.5L307.6 246.3L307.6 230.5L307.9 231.4L307.9 247.2L308.2 246.2L308.2 231.5L308.6 231.6L308.6 247.3L308.9 248.8L308.9 231.9L309.3 229.9L309.3 246L309.6 247.6L309.6 231.8L310 233.9L310 248.7L310.3 250.2L310.3 236.5L310.7 237.2L310.7 250L311 252.5L311 240.3L311.4 240L311.4 252.6L311.7 256.2L311.7 240.7L312.1 241L312.1 256.2L312.4 257.3L312.4 241.3L312.7 241.1L312.7 256.3L313.1 256.6L313.1 243.2L313.4 243.9L313.4 256.3L313.8 258.1L313.8 242.8L314.1 241.3L314.1 254.7L314.5 256.6L314.5 243.2L314.8 240.2L314.8 255.4L315.2 254.5L315.2 241.1L315.5 240.8L315.5 251.6L315.9 251.6L315.9 238.6L316.2 235.3L316.2 248.8L316.5 251.8L316.5 238.6L316.9 236.9L316.9 252.1L317.2 252.6L317.2 236.7L317.6 235.1L317.6 252.3L317.9 256L317.9 236.7L318.3 236.5L318.3 257.1L318.6 258.8L318.6 237.7L319 236.1L319 258L319.3 257.5L319.3 237.5L319.7 240.1L319.7 256.7L320 254.3L320 239.3L320.4 239.8L320.4 252.7L320.7 254.6L320.7 240.6L321 242.4L321 257.4L321.4 257.3L321.4 240.9L321.7 240.4L321.7 257.6L322.1 258.7L322.1 240.8L322.4 242.2L322.4 258.3L322.8 255.5L322.8 241.4L323.1 241L323.1 254.3L323.5 251.6L323.5 239.4L323.8 241.1L323.8 253.2L324.2 252.8L324.2 240.9L324.5 238.4L324.5 251L324.8 253.2L324.8 239L325.2 239.6L325.2 253.6L325.5 252.3L325.5 238.8L325.9 239.7L325.9 253.5L326.2 253.5L326.2 239.9L326.6 243.3L326.6 255.6L326.9 258.2L326.9 245.7L327.3 247.3L327.3 261.1L327.6 261.9L327.6 247.1L328 249.7L328 264.9L328.3 264.2L328.3 249.1L328.6 250.9L328.6 264.3L329 265L329 252.1L329.3 251.4L329.3 265.1L329.7 264.9L329.7 249.9L330 250.3L330 264.5L330.4 263.5L330.4 247.6L330.7 249.8L330.7 264.5L331.1 263.3L331.1 251.5L331.4 249.3L331.4 259.6L331.8 262.4L331.8 250.3L332.1 250.3L332.1 262.3L332.5 261L332.5 249L332.8 248.9L332.8 261.5L333.1 259.8L333.1 246.6L333.5 244.5L333.5 256.7L333.8 258.1L333.8 244.7L334.2 244L334.2 257.4L334.5 258.6L334.5 244.6L334.9 249.1L334.9 262.2L335.2 263.3L335.2 248.4L335.6 247.9L335.6 262.2L335.9 261.2L335.9 245.6L336.3 245.2L336.3 260.7L336.6 259.2L336.6 243.2L336.9 245.6L336.9 261.7L337.3 260.1L337.3 243.5L337.6 245.1L337.6 261.4L338 264.6L338 249.1L338.3 250.9L338.3 265.5L338.7 268.3L338.7 255.3L339 257.3L339 270.2L339.4 272L339.4 258.4L339.7 260.1L339.7 273.9L340.1 276.5L340.1 260.9L340.4 258.1L340.4 274.2L340.8 275L340.8 260.6L341.1 258.5L341.1 273.3L341.4 272.3L341.4 257.4L341.8 257.4L341.8 269.5L342.1 268.5L342.1 259.1L342.5 257.7L342.5 267.2L342.8 266.1L342.8 258.5L343.2 258L343.2 264.2L343.5 263.3L343.5 256.9L343.9 255L343.9 263.1L344.2 262.4L344.2 254.3L344.6 253.6L344.6 261.9L344.9 261.8L344.9 252.8L345.2 252.1L345.2 261.2L345.6 259.8L345.6 251.8L345.9 253.9L345.9 261.6L346.3 262.8L346.3 255.5L346.6 257.8L346.6 264.5L347 266.3L347 258.9L347.3 259.9L347.3 268.2L347.7 268.7L347.7 260.9L348 263.4L348 269.4L348.4 271.1L348.4 265L348.7 267.2L348.7 272.6L349 272.9L349 268.2L349.4 269.9L349.4 275.3L349.7 276.9L349.7 270.7L350.1 272.3L350.1 278.1L350.4 280.8L350.4 274.1L350.8 276.9L350.8 283.4L351.1 285.9L351.1 279.2L351.5 280.9L351.5 288.3L351.8 287L351.8 278.8L352.2 277.5L352.2 285L352.5 283.9L352.5 275.4L352.9 273.1L352.9 281.3L353.2 280.2L353.2 272.3L353.5 273.7L353.5 281.2L353.9 282.3L353.9 275.2L354.2 275.4L354.2 281L354.6 280.2L354.6 275.1L354.9 274.2L354.9 279.8L355.3 281.7L355.3 275.9L355.6 276.1L355.6 281.6L356 282.5L356 276.4L356.3 276.7L356.3 283.4L356.7 284.4L356.7 278.6L357 278.9L357 285.3L357.3 286.3L357.3 279.8L357.7 279.5L357.7 285.8L358 285.2L358 280.5L358.4 279.8L358.4 285.6L358.7 284.2L358.7 279.1L359.1 277.3L359.1 282.6L359.4 280.9L359.4 275.2L359.8 273.8L359.8 281.2L360.1 280L360.1 272.9L360.5 273.4L360.5 280.4L360.8 279.6L360.8 271.2L361.1 271.1L361.1 280.6L361.5 281L361.5 272.1L361.8 272.9L361.8 281.6L362.2 282.6L362.2 273.9L362.5 275.4L362.5 283.2L362.9 282.7L362.9 276.5L363.2 277.5L363.2 284L363.6 284.5L363.6 278L363.9 278.8L363.9 284.8L364.3 285.3L364.3 279.6L364.6 279.4L364.6 286.4L365 286.6L365 280.4L365.3 281.4L365.3 287.4L365.6 288.6L365.6 282L366 282.3L366 288.9L366.3 289L366.3 283.3L366.7 282.9L366.7 288.9L367 288.6L367 282.5L367.4 282.9L367.4 288.1L367.7 286.6L367.7 281.2L368.1 279L368.1 284.1L368.4 281.3L368.4 275.9L368.8 273.8L368.8 279.1L369.1 276.4L369.1 271.1L369.4 268.7L369.4 273.9L369.8 272L369.8 266.7L370.1 267.3L370.1 272.3L370.5 271.9L370.5 266.7L370.8 267.9L370.8 273.7L371.2 272.9L371.2 267.7L371.5 269.4L371.5 275L371.9 276.6L371.9 271.5L372.2 273.2L372.2 278.2L372.6 279.7L372.6 275.1L372.9 277.4L372.9 282.3L373.3 283.7L373.3 278.8L373.6 280.2L373.6 285.6L373.9 285.3L373.9 279.5L374.3 280.3L374.3 286.4L374.6 285.1L374.6 278.8L375 277.6L375 284.4L375.3 284.1L375.3 276.9L375.7 277.5L375.7 284.5L376 284.5L376 277.6L376.4 278L376.4 285L376.7 282.3L376.7 275.7L377.1 275.2L377.1 281L377.4 278.9L377.4 273.4L377.7 271.7L377.7 277.9L378.1 276.9L378.1 270.5L378.4 270.8L378.4 277.3L378.8 277.5L378.8 271.1L379.1 272L379.1 278.9L379.5 279.8L379.5 273.6L379.8 275.6L379.8 281.2L380.2 282.1L380.2 276.8L380.5 277L380.5 283.3L380.9 284.6L380.9 277.5L381.2 277.5L381.2 284.5L381.5 285.5L381.5 277.7L381.9 278.6L381.9 286.9L382.2 285.7L382.2 278.1L382.6 278.3L382.6 285.2L382.9 285.9L382.9 278.6L383.3 278.9L383.3 285.1L383.6 284.6L383.6 278.7L384 278.2L384 284L384.3 282.6L384.3 277.5L384.7 276.2L384.7 281.3L385 280.8L385 274.9L385.4 273.3L385.4 279L385.7 278.3L385.7 272.3L386 271.7L386 278.1L386.4 278L386.4 271.2L386.7 271L386.7 277.4L387.1 278.6L387.1 271.5L387.4 271.9L387.4 278.6L387.8 279.4L387.8 272.3L388.1 273.3L388.1 279.5L388.5 280.1L388.5 274L388.8 274.8L388.8 280.2L389.2 280L389.2 274.9L389.5 274.3L389.5 279L389.8 280L389.8 274.8L390.2 274.9L390.2 280.7L390.5 280.2L390.5 274.3L390.9 272.7L390.9 280L391.2 278.9L391.2 272.4L391.6 272.6L391.6 278.6L391.9 278.2L391.9 272.8L392.3 272.4L392.3 277.7L392.6 275.6L392.6 271.7L393 270.5L393 274.3L393.3 273.5L393.3 268.7L393.7 267L393.7 272.7L394 270.4L394 264.5L394.3 263.8L394.3 269.5L394.7 268.2L394.7 261L395 260.2L395 266.3L395.4 264.2L395.4 258.9L395.7 257L395.7 262.1L396.1 262.7L396.1 256.8L396.4 257.1L396.4 262.1L396.8 260.8L396.8 255.9L397.1 254.5L397.1 260.6L397.5 260.9L397.5 255.1L397.8 255.2L397.8 260.8L398.1 260.5L398.1 254.8L398.5 253L398.5 259.3L398.8 258.1L398.8 252.8L399.2 252.5L399.2 257.8L399.5 257.7L399.5 252.4L399.9 251.9L399.9 257.6L400.2 255.8L400.2 249.9L400.6 248.6L400.6 254.2L400.9 252.7L400.9 247.1L401.3 244.1L401.3 249.7L401.6 247.2L401.6 241.9L401.9 239.5L401.9 244.7L402.3 243.1L402.3 237.9L402.6 236.9L402.6 242.7L403 242.6L403 236.1L403.3 233.8L403.3 240.6L403.7 240.6L403.7 233L404 231.7L404 239.9L404.4 239.8L404.4 231.4L404.7 231.4L404.7 239.5L405.1 240L405.1 231.2L405.4 230.5L405.4 239.6L405.8 238.3L405.8 230L406.1 229.6L406.1 237.3L406.4 236.2L406.4 229L406.8 228.9L406.8 235.1L407.1 234.6L407.1 229.5L407.5 227.4L407.5 233.2L407.8 232.5L407.8 227.3L408.2 226.2L408.2 232.3L408.5 232.6L408.5 225.3L408.9 224.4L408.9 232L409.2 230.5L409.2 223.2L409.6 223.3L409.6 231L409.9 230.2L409.9 223.3L410.2 222.7L410.2 228.6L410.6 228L410.6 222.8L410.9 223.2L410.9 229.2L411.3 229.5L411.3 222.4L411.6 221.6L411.6 229.5L412 227.9L412 219.8L412.3 218.5L412.3 228.5L412.7 227.8L412.7 218.2L413 217.4L413 226L413.4 224.5L413.4 216.4L413.7 215.2L413.7 222.6L414.1 220L414.1 214.1L414.4 211.9L414.4 218.1L414.7 216.7L414.7 210.7L415.1 209.9L415.1 216.6L415.4 216.1L415.4 209.4L415.8 208.3L415.8 215.1L416.1 214.4L416.1 208.7L416.5 209.1L416.5 215.3L416.8 215.3L416.8 208.5L417.2 206.3L417.2 213.6L417.5 212.4L417.5 205L417.9 203.5L417.9 211L418.2 211.4L418.2 204.7L418.5 206.1L418.5 212.3L418.9 213.9L418.9 207.2L419.2 209.6L419.2 216.1L419.6 218.1L419.6 211.4L419.9 211.1L419.9 218.2L420.3 219L420.3 211.6L420.6 211.3L420.6 219.3L421 218L421 209.7L421.3 207.3L421.3 215.7L421.7 212.8L421.7 204.5L422 203.7L422 210.9L422.3 211.2L422.3 205.7L422.7 208.6L422.7 212.7L423 214.4L423 209.9L423.4 211.6L423.4 216.3L423.7 217.4L423.7 212.6L424.1 214.1L424.1 219.6L424.4 220.6L424.4 214.2L424.8 214.3L424.8 220.9L425.1 219.4L425.1 213.1L425.5 214.4L425.5 221.4L425.8 222.1L425.8 215.9L426.2 218.2L426.2 224.8L426.5 224.3L426.5 218.4L426.8 217.1L426.8 224.2L427.2 222.1L427.2 215.1L427.5 205L427.5 223.9L427.9 222.8L427.9 205L428.2 205L428.2 221.3L428.6 220.5L428.6 205L428.9 205L428.9 221.1L429.3 221.4L429.3 205L429.6 205L429.6 222.9L430 223.3L430 216.8L430.3 217.6L430.3 223.9L430.6 226L430.6 218.9L431 219.7L431 227.1L431.3 230.1L431.3 221.2L431.7 221.9L431.7 230.6L432 231.2L432 222.1L432.4 224.6L432.4 233.9L432.7 236L432.7 226.7L433.1 227.1L433.1 235.4L433.4 236.3L433.4 228L433.8 228.6L433.8 237L434.1 237.6L434.1 230.2L434.5 230.8L434.5 237.5L434.8 237.8L434.8 231L435.1 231.6L435.1 238.2L435.5 237.8L435.5 232.2L435.8 230.4L435.8 237.1L436.2 236.9L436.2 229.1L436.5 228.3L436.5 236.4L436.9 236.3L436.9 229.3L437.2 229.4L437.2 236.3L437.6 234.7L437.6 229.1L437.9 229.2L437.9 233.3L438.3 256L438.3 229L438.6 229.7L438.6 256L438.9 256L438.9 230.6L439.3 231.8L439.3 256L439.6 256L439.6 232.7L440 233.6L440 256L440.3 242L440.3 234.1L440.7 234.8L440.7 243.6L441 242.6L441 234.3L441.4 231.5L441.4 240.1L441.7 234.5L441.7 227.1L442.1 222.3L442.1 229.9L442.4 226.2L442.4 220.3L442.7 218L442.7 223.6L443.1 220.9L443.1 216.2L443.4 212.2L443.4 217L443.8 216.6L443.8 211.9L444.1 213.3L444.1 218.9L444.5 220L444.5 214.1L444.8 215.1L444.8 221.3L445.2 224.4L445.2 218.6L445.5 219.8L445.5 225.7L445.9 228L445.9 222.4L446.2 223.4L446.2 229.7L446.6 230.3L446.6 223.8L446.9 225.5L446.9 231.9L447.2 233.6L447.2 228.1L447.6 227.8L447.6 234.4L447.9 234.5L447.9 227.8L448.3 226.6L448.3 233.6L448.6 231.6L448.6 223.9L449 221.5L449 230.1L449.3 229.2L449.3 221L449.7 219.6L449.7 227.8L450 225.9L450 217.8L450.4 217.4L450.4 225.7L450.7 226.5L450.7 218.2L451 219L451 226.8L451.4 227.8L451.4 220.7L451.7 221.5L451.7 228.5L452.1 230.9L452.1 224L452.4 225.4L452.4 231.9L452.8 232.7L452.8 226L453.1 225.5L453.1 232.4L453.5 234L453.5 227.1L453.8 227.9L453.8 234.5L454.2 235.3L454.2 228L454.5 228.8L454.5 235.5L454.9 237.2L454.9 230.2L455.2 232.2L455.2 239.9L455.5 241.2L455.5 233.4L455.9 234.5L455.9 242.3L456.2 244.4L456.2 235.2L456.6 236.8L456.6 244.7L456.9 241.4L456.9 233.4L457.3 231.2L457.3 239.5L457.6 236.1L457.6 228.2L458 226.6L458 234.3L458.3 232.4L458.3 223.3L458.7 220.2L458.7 228.1L459 224.6L459 216.3L459.3 216L459.3 224.3L459.7 220.3L459.7 212.3L460 211.3L460 218.5L460.4 216.7L460.4 210.2L460.7 209L460.7 214.4L461.1 213.5L461.1 207.9L461.4 208.6L461.4 214.7L461.8 215.4L461.8 209L462.1 210.8L462.1 219L462.5 222.5L462.5 214.2L462.8 216.6L462.8 224.5L463.1 225.3L463.1 218.4L463.5 220.4L463.5 228.6L463.8 229.9L463.8 222.9L464.2 224.2L464.2 231.6L464.5 232.3L464.5 223.7L464.9 223L464.9 231.7L465.2 232.6L465.2 224.1L465.6 224.1L465.6 232.7L465.9 233.2L465.9 225L466.3 227.7L466.3 234.7L466.6 235.2L466.6 229.4L467 229.9L467 234.7L467.3 233.3L467.3 228.9L467.6 227L467.6 232.4L468 231.3L468 225.4L468.3 222.6L468.3 229.1L468.7 226.4L468.7 219.7L469 216.8L469 224.4L469.4 222.3L469.4 216.2L469.7 216.8L469.7 222.7L470.1 223.3L470.1 216.4L470.4 216.4L470.4 224.1L470.8 223.9L470.8 216.7L471.1 216.3L471.1 224.5L471.4 224.3L471.4 215.6L471.8 214.6L471.8 224L472.1 224L472.1 216L472.5 215.5L472.5 224.7L472.8 225L472.8 215.9L473.2 216.6L473.2 225.3L473.5 226.7L473.5 219.9L473.9 220.7L473.9 228.4L474.2 228.9L474.2 222.3L474.6 222.1L474.6 228.6L474.9 229.6L474.9 222.6L475.3 220.9L475.3 229.1L475.6 229.1L475.6 220.9L475.9 219.3L475.9 227.5L476.3 226.4L476.3 217.9L476.6 217.6L476.6 226.1L477 226.4L477 218L477.3 218.8L477.3 227L477.7 228.4L477.7 220.2L478 222.1L478 229.3L478.4 229.5L478.4 223.4L478.7 223L478.7 229.6L479.1 231.1L479.1 224.3L479.4 225.8L479.4 232.5L479.7 231.8L479.7 224.4L480.1 223.5L480.1 232.7L480.4 232.9L480.4 222.8L480.8 222.2L480.8 232.1L481.1 231.2L481.1 220.7L481.5 219.6L481.5 230.1L481.8 227.6L481.8 217.4L482.2 217.5L482.2 227L482.5 225.7L482.5 216.3L482.9 215L482.9 224.6L483.2 224.3L483.2 214.4L483.5 215.1L483.5 224.2L483.9 223.1L483.9 214.5L484.2 213.6L484.2 222.2L484.6 221.2L484.6 213L484.9 212.3L484.9 220.7L485.3 219.8L485.3 211.3L485.6 211L485.6 219.4L486 220.6L486 211.7L486.3 212.1L486.3 220.6L486.7 221.3L486.7 213.2L487 215.3L487 222.9L487.4 223.7L487.4 216.3L487.7 218.3L487.7 226L488 227.3L488 219.4L488.4 219.5L488.4 227.3L488.7 228.8L488.7 220.5L489.1 221.6L489.1 229.4L489.4 229.1L489.4 222.2L489.8 222.7L489.8 229.3L490.1 229.9L490.1 223.1L490.5 224.4L490.5 230.5L490.8 230.1L490.8 222.5L491.2 222.7L491.2 230.2L491.5 229.7L491.5 222L491.8 220.8L491.8 228.2L492.2 227.7L492.2 219L492.5 219.1L492.5 227.1L492.9 225.4L492.9 218.2L493.2 219.1L493.2 225.6L493.6 224.8L493.6 218.1L493.9 218.8L493.9 224.6L494.3 224.5L494.3 219.5L494.6 218.3L494.6 224L495 222.2L495 216.3L495.3 216.1L495.3 221.3L495.7 220.6L495.7 215.5L496 214.8L496 219.7L496.3 218L496.3 212.6L496.7 212.2L496.7 217.2L497 218.4L497 212.7L497.4 213L497.4 219.4L497.7 221.3L497.7 213.6L498.1 213.3L498.1 221.9L498.4 223.5L498.4 213.8L498.8 215L498.8 224.6L499.1 226.9L499.1 217L499.5 217.5L499.5 226.7L499.8 226L499.8 218.3L500.1 216.5L500.1 223.7L500.5 222.4L500.5 215.8L500.8 215.1L500.8 221.4L501.2 219.9L501.2 214.1L501.5 213L501.5 219L501.9 218.1L501.9 212.1L502.2 211.2L502.2 218.2L502.6 218.7L502.6 211.8L502.9 211.4L502.9 218.8L503.3 217.7L503.3 210.3L503.6 210.4L503.6 216.2L503.9 214.7L503.9 209.3L504.3 209.6L504.3 214.8L504.6 215.2L504.6 210.2L505 210.7L505 216.4L505.3 219L505.3 211.9L505.7 213.4L505.7 220.6L506 221.4L506 214.2L506.4 217.4L506.4 225.7L506.7 227.2L506.7 219.1L507.1 220L507.1 228.6L507.4 228.9L507.4 220.8L507.8 221.1L507.8 229.4L508.1 228.8L508.1 220.4L508.4 220.2L508.4 228.2L508.8 227.1L508.8 218.7L509.1 217.8L509.1 226L509.5 224.9L509.5 217.4L509.8 217.4L509.8 223.7L510.2 223.1L510.2 216.9L510.5 215.8L510.5 223L510.9 223.1L510.9 214.7L511.2 212.8L511.2 221.1L511.6 220.3L511.6 211.8L511.9 209.9L511.9 218.5L512.2 216.7L512.2 209.4L512.6 209L512.6 215.6L512.9 215.8L512.9 208.4L513.3 208.6L513.3 216.2L513.6 216.8L513.6 208.9L514 210.7L514 218.4L514.3 219.2L514.3 211.2L514.7 212.2L514.7 220.7L515 221.7L515 213.2L515.4 214.7L515.4 222.9L515.7 222.3L515.7 215L516.1 215.2L516.1 223.4L516.4 222.7L516.4 215.1L516.7 214.9L516.7 222.2L517.1 221.7L517.1 213.9L517.4 213.5L517.4 222.5L517.8 221.2L517.8 212.9L518.1 212.4L518.1 221.7L518.5 220.9L518.5 211.7L518.8 211.5L518.8 219.7L519.2 219.2L519.2 211.9" stroke="#2ca02c"/>
<path d="M95.8 213L96 206.4L147.5 204.6L148.9 197.1L148.9 200L149.2 198.1L149.2 195.2L149.5 195.5L149.5 198.5L149.9 198.6L149.9 195.2L150.2 194.9L150.2 199.3L150.6 199.4L150.6 195.2L150.9 195.7L150.9 200.1L151.3 199.7L151.3 195.3L151.6 195.9L151.6 200L152 200.1L152 196.3L152.3 196.5L152.3 200.9L152.7 200.5L152.7 196.7L153 196.5L153 200.6L153.3 201.4L153.3 197.1L153.7 197.2L153.7 202.1L154 202.7L154 198.2L154.4 198.3L154.4 203.6L154.7 203.4L154.7 198.3L155.1 198.9L155.1 204L155.4 203.5L155.4 198.8L155.8 197.6L155.8 202.3L156.1 201.6L156.1 196.7L156.5 194.4L156.5 200.1L156.8 198.6L156.8 193.1L157.2 192.7L157.2 198.1L157.5 196.6L157.5 192L157.8 190.8L157.8 195.1L158.2 193.7L158.2 190.3L158.5 190.1L158.5 194L158.9 195.6L158.9 190.8L159.2 191.6L159.2 197.6L159.6 199.6L159.6 193.2L159.9 193.9L159.9 200.7L160.3 202.5L160.3 195.5L160.6 197.5L160.6 204L161 203.9L161 197.6L161.3 198.2L161.3 203.3L161.6 202.8L161.6 197.3L162 198.1L162 203.3L162.3 203.3L162.3 198.5L162.7 199.1L162.7 203.7L163 205.6L163 199.8L163.4 202.4L163.4 207.3L163.7 208L163.7 202.7L164.1 204.1L164.1 209.6L164.4 210.1L164.4 204.2L164.8 204.9L164.8 210.1L165.1 209.7L165.1 204.2L165.4 203.5L165.4 208.6L165.8 207.1L165.8 201L166.1 199.9L166.1 205.9L166.5 204.6L166.5 198.3L166.8 195.8L166.8 203.1L167.2 201.2L167.2 193.9L167.5 193.1L167.5 199.5L167.9 198.4L167.9 192.8L168.2 192.2L168.2 197.8L168.6 199L168.6 193.9L168.9 195.8L168.9 200.9L169.3 202.8L169.3 197.5L169.6 198.3L169.6 204.3L169.9 206.3L169.9 200.8L170.3 201.6L170.3 206.7L170.6 207.9L170.6 203.9L171 205.1L171 210L171.3 211.4L171.3 206.5L171.7 206.8L171.7 213.2L172 213.7L172 206.6L172.4 204.3L172.4 212.1L172.7 210.5L172.7 203.3L173.1 202.1L173.1 209.4L173.4 208.1L173.4 202.2L173.7 201.3L173.7 206.9L174.1 205.7L174.1 199.4L174.4 198.1L174.4 203.9L174.8 203.1L174.8 197.3L175.1 195.7L175.1 201.3L175.5 200L175.5 194.6L175.8 194.8L175.8 200.1L176.2 201.6L176.2 196.2L176.5 197.6L176.5 202.8L176.9 205.2L176.9 199.6L177.2 200.9L177.2 206.7L177.6 207.6L177.6 202.7L177.9 203.5L177.9 208.6L178.2 209.6L178.2 204.7L178.6 206.3L178.6 212.1L178.9 213.4L178.9 207.6L179.3 207.4L179.3 214.1L179.6 213.6L179.6 207.5L180 206.7L180 213.4L180.3 212.6L180.3 206.8L180.7 205.7L180.7 211.3L181 208.5L181 203.9L181.4 202.1L181.4 207.2L181.7 206L181.7 200.9L182 199.7L182 204.5L182.4 203L182.4 198.5L182.7 196.9L182.7 201.8L183.1 200.2L183.1 195.9L183.4 196L183.4 200.4L183.8 200.5L183.8 194.8L184.1 194.4L184.1 200L184.5 200L184.5 194.1L184.8 193L184.8 199.4L185.2 199.1L185.2 193.1L185.5 193.3L185.5 199.1L185.8 198.7L185.8 192.8L186.2 193.4L186.2 199.7L186.5 199.6L186.5 194.2L186.9 193.5L186.9 198.7L187.2 198.8L187.2 194.1L187.6 194.8L187.6 199.5L187.9 201L187.9 195.7L188.3 195.9L188.3 201.5L188.6 202.5L188.6 196.3L189 197.8L189 203.5L189.3 205.2L189.3 199L189.7 200.2L189.7 205.9L190 205.7L190 199.9L190.3 200.5L190.3 205.9L190.7 207L190.7 201.1L191 202.4L191 207.7L191.4 208.8L191.4 204.1L191.7 205.5L191.7 210.1L192.1 212.6L192.1 208L192.4 209.1L192.4 213.8L192.8 214.8L192.8 209.3L193.1 208.5L193.1 214.7L193.5 213.4L193.5 206.8L193.8 203.8L193.8 211.4L194.1 209.3L194.1 202.1L194.5 199.1L194.5 207.1L194.8 206.3L194.8 198.3L195.2 195.4L195.2 203.5L195.5 200.2L195.5 193.1L195.9 191.2L195.9 198L196.2 196L196.2 190.4L196.6 190.2L196.6 195.5L196.9 197.4L196.9 192.3L197.3 195.2L197.3 200.4L197.6 202.8L197.6 197.2L198 200.9L198 206.2L198.3 208.7L198.3 203L198.6 205.8L198.6 211.3L199 213.7L199 207.4L199.3 208.9L199.3 214.6L199.7 213.2L199.7 206.8L200 206.8L200 212.4L200.4 211.4L200.4 205.9L200.7 205.2L200.7 210.3L201.1 209.3L201.1 203.6L201.4 202.2L201.4 207.8L201.8 206.7L201.8 200.3L202.1 199.9L202.1 206.6L202.4 206.2L202.4 199.9L202.8 199.2L202.8 204.8L203.1 203.1L203.1 198.3L203.5 198.4L203.5 203L203.8 203.2L203.8 199.4L204.2 200L204.2 203.7L204.5 204.3L204.5 199.4L204.9 198.2L204.9 203.7L205.2 202.7L205.2 197.3L205.6 196L205.6 201.8L205.9 201.5L205.9 195.2L206.2 195L206.2 200.2L206.6 198.8L206.6 193.8L206.9 194.8L206.9 200L207.3 201.5L207.3 196.4L207.6 197.7L207.6 202.8L208 205.8L208 199.5L208.3 201.9L208.3 207.4L208.7 208.5L208.7 203.2L209 204L209 209.9L209.4 210.7L209.4 205.2L209.7 206.4L209.7 211.8L210.1 212.1L210.1 206.3L210.4 205.5L210.4 211L210.7 209.4L210.7 203.8L211.1 203.7L211.1 209.4L211.4 209.7L211.4 203.4L211.8 202.2L211.8 208.2L212.1 207L212.1 200.2L212.5 200.4L212.5 207.4L212.8 205.9L212.8 199.7L213.2 198.9L213.2 204.9L213.5 204.4L213.5 197.5L213.9 196.5L213.9 203.3L214.2 204L214.2 197.3L214.5 197.3L214.5 205L214.9 203.3L214.9 195.8L215.2 197.2L215.2 204.4L215.6 205L215.6 198.8L215.9 198.1L215.9 204.2L216.3 204.4L216.3 199.3L216.6 199.4L216.6 204.1L217 205.4L217 200.5L217.3 201.7L217.3 207.8L217.7 208.7L217.7 203.3L218 203.1L218 210.1L218.4 211.5L218.4 204.8L218.7 206.2L218.7 211.9L219 213L219 208.4L219.4 209.1L219.4 214.5L219.7 214.1L219.7 208.9L220.1 209.6L220.1 215.4L220.4 214.2L220.4 207.2L220.8 204.9L220.8 212.7L221.1 211.1L221.1 202.9L221.5 200.8L221.5 208.2L221.8 206.1L221.8 199.3L222.2 198.5L222.2 204.6L222.5 202.8L222.5 196.1L222.8 194.9L222.8 201.5L223.2 201.1L223.2 194.3L223.5 192.7L223.5 201.1L223.9 202.3L223.9 192.9L224.2 193.6L224.2 202.6L224.6 203.4L224.6 195.8L224.9 195.9L224.9 204.4L225.3 205.8L225.3 198.4L225.6 199.4L225.6 206.2L226 206.3L226 200.7L226.3 199.8L226.3 207.1L226.6 207.8L226.6 201.9L227 203.2L227 209.8L227.3 211.1L227.3 203.5L227.7 200.7L227.7 210.7L228 208.4L228 198.7L228.4 197.8L228.4 208L228.7 207.3L228.7 196.5L229.1 199L229.1 208.1L229.4 209.7L229.4 200.8L229.8 201.2L229.8 209L230.1 209.9L230.1 202.3L230.5 204.8L230.5 210L230.8 210.7L230.8 203.6L231.1 203.2L231.1 210.1L231.5 209.8L231.5 201.8L231.8 200.4L231.8 209.9L232.2 209.4L232.2 199L232.5 198.8L232.5 209.4L232.9 208.6L232.9 198.9L233.2 199L233.2 207.5L233.6 208.3L233.6 199.8L233.9 200L233.9 208.1L234.3 207.1L234.3 198.3L234.6 198.3L234.6 208.2L234.9 210.8L234.9 199.2L235.3 200.1L235.3 211.2L235.6 213.4L235.6 201.6L236 201.6L236 212.5L236.3 213.2L236.3 201.9L236.7 203.5L236.7 213.6L237 213.6L237 203.6L237.4 202.7L237.4 213.4L237.7 216.3L237.7 206.8L238.1 205.4L238.1 215L238.4 216.1L238.4 205.4L238.8 204.2L238.8 215.5L239.1 215.4L239.1 204.3L239.4 204L239.4 215.2L239.8 214.6L239.8 205.7L240.1 204.2L240.1 211.3L240.5 212.8L240.5 205.6L240.8 205.3L240.8 212.8L241.2 212.4L241.2 203.5L241.5 201.9L241.5 212.6L241.9 212.1L241.9 199.2L242.2 197L242.2 209.7L242.6 207.1L242.6 194.5L242.9 193.8L242.9 205.6L243.2 206.7L243.2 194.5L243.6 195.8L243.6 208.4L243.9 209.9L243.9 196.9L244.3 198.6L244.3 212.3L244.6 214.6L244.6 200.2L245 203.3L245 217.7L245.3 218.8L245.3 207.1L245.7 209.7L245.7 221.1L246 221.1L246 210.7L246.4 212.9L246.4 222.3L246.7 222.8L246.7 213.5L247 212.2L247 221.4L247.4 219.4L247.4 211L247.7 209.8L247.7 219.7L248.1 217.7L248.1 205.3L248.4 204L248.4 216.5L248.8 217.2L248.8 202.9L249.1 203.5L249.1 219.7L249.5 221.1L249.5 204.6L249.8 204.8L249.8 218.3L250.2 217.7L250.2 205.2L250.5 206.8L250.5 217.9L250.9 215.8L250.9 206.1L251.2 204.9L251.2 214.1L251.5 216.5L251.5 205.2L251.9 201.5L251.9 213L252.2 214.4L252.2 203.4L252.6 204L252.6 217.2L252.9 218L252.9 204.8L253.3 206.9L253.3 219.4L253.6 219.1L253.6 206.8L254 207.2L254 219.7L254.3 221.8L254.3 210L254.7 210.7L254.7 222L255 222.3L255 210.8L255.3 210.4L255.3 223.7L255.7 222.3L255.7 207.6L256 209.7L256 222.2L256.4 221.7L256.4 210.8L256.7 210.3L256.7 220.4L257.1 220.3L257.1 211.7L257.4 210.5L257.4 218.7L257.8 218.8L257.8 208.4L258.1 207.6L258.1 218.2L258.5 217.7L258.5 206.7L258.8 204.9L258.8 215.9L259.2 216.6L259.2 206.2L259.5 207.9L259.5 218L259.8 219.1L259.8 208.3L260.2 208L260.2 219.6L260.5 221.7L260.5 210L260.9 209.3L260.9 221L261.2 220.9L261.2 208.9L261.6 209.1L261.6 221.7L261.9 221.8L261.9 210.6L262.3 211L262.3 221L262.6 224.9L262.6 212.6L263 214.4L263 223.9L263.3 222.9L263.3 214L263.6 213.5L263.6 222L264 223.1L264 212.7L264.3 212.1L264.3 220.5L264.7 223.4L264.7 213.2L265 210.4L265 222.1L265.4 220.6L265.4 208L265.7 208.5L265.7 220.5L266.1 222.1L266.1 209.8L266.4 208.5L266.4 221.6L266.8 221.1L266.8 209.2L267.1 206.2L267.1 217.5L267.4 220.4L267.4 207.8L267.8 207.8L267.8 221.3L268.1 220L268.1 207.8L268.5 210.2L268.5 222.5L268.8 225.6L268.8 211.5L269.2 212.6L269.2 226.1L269.5 228.2L269.5 216.9L269.9 217L269.9 230.9L270.2 233.7L270.2 218.6L270.6 218.7L270.6 233.5L270.9 233.9L270.9 219.2L271.3 217.7L271.3 232.8L271.6 232.5L271.6 220.3L271.9 219.9L271.9 231L272.3 231.3L272.3 220.1L272.6 218L272.6 228.5L273 231.2L273 220.2L273.3 220L273.3 231L273.7 231.4L273.7 220.1L274 219.5L274 228.9L274.4 229L274.4 218.6L274.7 219.8L274.7 229.5L275.1 231.2L275.1 220.9L275.4 224.2L275.4 234.5L275.7 234.1L275.7 222.5L276.1 224.8L276.1 236.8L276.4 238.2L276.4 225.5L276.8 224.1L276.8 236.6L277.1 234.5L277.1 223.1L277.5 223.8L277.5 235.8L277.8 232.1L277.8 221.8L278.2 221.5L278.2 233.5L278.5 232.1L278.5 220.8L278.9 223.6L278.9 234.3L279.2 237.2L279.2 227.7L279.6 226.9L279.6 238L279.9 237.6L279.9 228.3L280.2 229.5L280.2 239.5L280.6 240.7L280.6 228.8L280.9 227.9L280.9 242.1L281.3 240.1L281.3 226.5L281.6 223.7L281.6 238.2L282 237.4L282 223.1L282.3 222.6L282.3 236.1L282.7 233.8L282.7 221.3L283 221.7L283 235.6L283.4 234.5L283.4 221.3L283.7 219.3L283.7 233L284 234.2L284 220.3L284.4 223.5L284.4 235.4L284.7 234.4L284.7 225.2L285.1 225.8L285.1 236.6L285.4 234.3L285.4 223.5L285.8 226.5L285.8 236.4L286.1 238L286.1 226.3L286.5 227.1L286.5 239.8L286.8 238.3L286.8 227.5L287.2 227.4L287.2 238.8L287.5 238.4L287.5 225.6L287.8 227.1L287.8 237.9L288.2 238.4L288.2 228.8L288.5 228.7L288.5 238.7L288.9 238.9L288.9 228.2L289.2 229.5L289.2 237.5L289.6 238.5L289.6 229.3L289.9 227L289.9 238L290.3 238.1L290.3 227.2L290.6 226.1L290.6 235.8L291 238.5L291 226.9L291.3 226.6L291.3 237.7L291.7 236.8L291.7 227.4L292 225.7L292 236.3L292.3 239L292.3 229.2L292.7 228.4L292.7 237.9L293 238.4L293 228.2L293.4 227L293.4 237.4L293.7 238.9L293.7 229.3L294.1 229.8L294.1 240L294.4 242.4L294.4 231.8L294.8 232.5L294.8 242.2L295.1 244.1L295.1 233.4L295.5 231.5L295.5 240.9L295.8 240.1L295.8 229.1L296.1 230.6L296.1 242.6L296.5 245.4L296.5 232.7L296.8 233.2L296.8 246.3L297.2 247.2L297.2 232.9L297.5 232.3L297.5 246L297.9 244.3L297.9 232.2L298.2 233L298.2 246.4L298.6 244.4L298.6 231.2L298.9 230.1L298.9 243.4L299.3 242.8L299.3 229.4L299.6 226.4L299.6 240.6L300 242.1L300 227.4L300.3 227.7L300.3 241.7L300.6 237.9L300.6 224.3L301 225.8L301 237.1L301.3 237.7L301.3 228.4L301.7 231.6L301.7 239L302 243.8L302 235.4L302.4 235.7L302.4 244.5L302.7 249.4L302.7 238.1L303.1 238.5L303.1 252L303.4 253.3L303.4 239.4L303.8 238.1L303.8 249.7L304.1 250.6L304.1 238.7L304.4 237.1L304.4 247.7L304.8 249.2L304.8 239.9L305.1 241.3L305.1 250.1L305.5 252.4L305.5 243.1L305.8 239.3L305.8 249.2L306.2 249.7L306.2 239.6L306.5 237.6L306.5 248.5L306.9 249.6L306.9 237.4L307.2 236L307.2 249.3L307.6 248.7L307.6 235.4L307.9 234L307.9 248.6L308.2 250.1L308.2 236.2L308.6 236.7L308.6 251.3L308.9 251.9L308.9 237.8L309.3 238.9L309.3 252L309.6 250.9L309.6 239.1L310 240.7L310 252.9L310.3 252.1L310.3 240.9L310.7 239.8L310.7 254L311 253.2L311 239.2L311.4 237.7L311.4 252.7L311.7 254.4L311.7 239.1L312.1 240.8L312.1 255.4L312.4 254.3L312.4 241L312.7 242.2L312.7 255.3L313.1 253.8L313.1 241.5L313.4 241.4L313.4 254.1L313.8 254.3L313.8 241.1L314.1 241L314.1 254.1L314.5 251.7L314.5 238.1L314.8 237.6L314.8 250.5L315.2 249.8L315.2 237.1L315.5 238.2L315.5 250.1L315.9 248.4L315.9 238.8L316.2 238.8L316.2 248.4L316.5 250.2L316.5 239.8L316.9 239.8L316.9 250.7L317.2 252.1L317.2 240.2L317.6 239.2L317.6 251.1L317.9 251.5L317.9 239L318.3 240.4L318.3 253.5L318.6 254.4L318.6 241.9L319 242.4L319 253.3L319.3 255L319.3 242.4L319.7 245.7L319.7 257.3L320 260L320 248.5L320.4 246.4L320.4 258.4L320.7 258.7L320.7 245.4L321 245.1L321 256.8L321.4 254.8L321.4 242.9L321.7 241.8L321.7 254.6L322.1 252.8L322.1 241.3L322.4 239.6L322.4 251.1L322.8 251L322.8 239.1L323.1 238.9L323.1 252L323.5 251.8L323.5 240.1L323.8 240.7L323.8 253.4L324.2 253.5L324.2 242.5L324.5 243.6L324.5 253.8L324.8 255.3L324.8 244.2L325.2 244.8L325.2 255.3L325.5 254.7L325.5 244.9L325.9 246.5L325.9 257.2L326.2 260.2L326.2 246.7L326.6 247.2L326.6 258.4L326.9 259.8L326.9 248.8L327.3 248.9L327.3 260.2L327.6 262.6L327.6 251.9L328 253L328 262.7L328.3 265.1L328.3 254.7L328.6 253.4L328.6 263.5L329 265L329 253.8L329.3 252.7L329.3 264.9L329.7 266.3L329.7 255.6L330 256L330 266.2L330.4 266.8L330.4 255.9L330.7 254.6L330.7 264.6L331.1 265.7L331.1 256L331.4 255.7L331.4 265.3L331.8 264.8L331.8 253.7L332.1 250.9L332.1 262.6L332.5 261.2L332.5 248.5L332.8 246.6L332.8 259.6L333.1 259.8L333.1 245.2L333.5 244.8L333.5 257.8L333.8 256L333.8 242.6L334.2 242.8L334.2 255.2L334.5 256L334.5 243.2L334.9 245.7L334.9 258.2L335.2 259.3L335.2 247.1L335.6 249.8L335.6 261.1L335.9 262.5L335.9 251.4L336.3 253.2L336.3 262.5L336.6 262.4L336.6 253.3L336.9 255.8L336.9 264.9L337.3 263.5L337.3 254.7L337.6 255.1L337.6 263.3L338 265.6L338 255.6L338.3 256.6L338.3 267.4L338.7 269.1L338.7 257.2L339 259.4L339 270.2L339.4 272.2L339.4 260.1L339.7 263.4L339.7 275.4L340.1 275.2L340.1 264.5L340.4 264.1L340.4 273.6L340.8 272.4L340.8 262.7L341.1 262.7L341.1 271.5L341.4 269.5L341.4 261.4L341.8 262.1L341.8 268.8L342.1 266.2L342.1 260.4L342.5 259.6L342.5 266L342.8 264.7L342.8 258.2L343.2 258.8L343.2 265L343.5 264.5L343.5 257.5L343.9 257L343.9 264.6L344.2 263.3L344.2 255.8L344.6 254.5L344.6 261.8L344.9 261.4L344.9 254L345.2 252.8L345.2 260.3L345.6 260.1L345.6 252.3L345.9 254.4L345.9 262L346.3 264.2L346.3 257L346.6 258.5L346.6 265.4L347 266.3L347 260.6L347.3 262.5L347.3 267.2L347.7 267.5L347.7 263.6L348 264.7L348 268.3L348.4 270.1L348.4 266.7L348.7 268.1L348.7 271.7L349 274.4L349 270.2L349.4 271.5L349.4 276.1L349.7 277.4L349.7 272.8L350.1 275.5L350.1 280.1L350.4 281.6L350.4 277.3L350.8 279.1L350.8 283.7L351.1 286.4L351.1 281.3L351.5 281.3L351.5 286.7L351.8 285L351.8 279.7L352.2 277.4L352.2 282.7L352.5 279.8L352.5 275.5L352.9 274L352.9 277.4L353.2 275.5L353.2 271.9L353.5 272.1L353.5 275.3L353.9 276.7L353.9 273.6L354.2 273.5L354.2 277.7L354.6 279.3L354.6 275.3L354.9 276.3L354.9 279.9L355.3 281L355.3 276.8L355.6 276.8L355.6 281.7L356 282.8L356 278.4L356.3 277L356.3 282.2L356.7 282.9L356.7 277.9L357 278L357 282.5L357.3 282.7L357.3 278.6L357.7 278.5L357.7 282L358 282.6L358 279.3L358.4 277.9L358.4 281.7L358.7 281.9L358.7 277.8L359.1 277.8L359.1 282L359.4 281.6L359.4 276.9L359.8 275.5L359.8 280L360.1 280.6L360.1 276.3L360.5 276.8L360.5 281L360.8 281.1L360.8 276.6L361.1 276.1L361.1 281.2L361.5 281.2L361.5 275.3L361.8 275.2L361.8 280.7L362.2 280.8L362.2 275.6L362.5 275.1L362.5 280.8L362.9 281.4L362.9 276.1L363.2 276L363.2 281.3L363.6 282.2L363.6 276L363.9 276.8L363.9 283.7L364.3 284.3L364.3 278.4L364.6 278.2L364.6 284.3L365 284.4L365 279L365.3 280.7L365.3 285L365.6 284.9L365.6 281.3L366 281.4L366 285.4L366.3 285.6L366.3 282.1L366.7 283.1L366.7 286.4L367 287.4L367 283.8L367.4 283.8L367.4 287.9L367.7 286.9L367.7 282.6L368.1 280.5L368.1 284.9L368.4 282.4L368.4 277.9L368.8 275.3L368.8 279.6L369.1 277L369.1 272.9L369.4 270.9L369.4 275L369.8 273.8L369.8 269.3L370.1 268.6L370.1 273.4L370.5 274.3L370.5 269.2L370.8 269.4L370.8 274.7L371.2 275.4L371.2 270.3L371.5 271.1L371.5 275.9L371.9 276.4L371.9 271.8L372.2 272.4L372.2 276.9L372.6 278.5L372.6 273.7L372.9 276L372.9 281L373.3 282.7L373.3 277.9L373.6 279.4L373.6 284.3L373.9 284.3L373.9 279.6L374.3 279.6L374.3 283.8L374.6 284.4L374.6 280L375 280.3L375 285.2L375.3 284.6L375.3 279.5L375.7 279.7L375.7 285L376 284.3L376 279L376.4 278.4L376.4 283.6L376.7 281.9L376.7 277.4L377.1 276.7L377.1 280.5L377.4 279.5L377.4 275.6L377.7 274L377.7 278.5L378.1 278.2L378.1 274L378.4 275L378.4 279.5L378.8 280.1L378.8 274.7L379.1 275.5L379.1 280L379.5 280L379.5 275.8L379.8 276.2L379.8 280.4L380.2 281.2L380.2 277.1L380.5 278.3L380.5 281.9L380.9 283.9L380.9 278.6L381.2 279.1L381.2 284.2L381.5 285.3L381.5 280.2L381.9 280.1L381.9 285.2L382.2 285.6L382.2 279.7L382.6 280L382.6 284.9L382.9 285.2L382.9 280.4L383.3 280L383.3 284.9L383.6 284.3L383.6 279.5L384 278.9L384 283.2L384.3 281.9L384.3 277.7L384.7 276.4L384.7 280.2L385 279.4L385 275L385.4 273.8L385.4 278.7L385.7 278.2L385.7 273.1L386 272.1L386 277.7L386.4 277.1L386.4 271L386.7 271.3L386.7 276.9L387.1 277.2L387.1 271.7L387.4 272.6L387.4 277.8L387.8 278.6L387.8 273.9L388.1 275L388.1 279.6L388.5 280L388.5 275.7L388.8 276.2L388.8 280.4L389.2 280.8L389.2 276.4L389.5 275.6L389.5 279.9L389.8 279L389.8 274.6L390.2 273.9L390.2 278.7L390.5 277.1L390.5 272.9L390.9 271.9L390.9 276.3L391.2 275.4L391.2 271L391.6 270.8L391.6 274.2L391.9 273.7L391.9 270.3L392.3 268.4L392.3 272.6L392.6 270.8L392.6 267L393 266L393 269.7L393.3 269.3L393.3 264.3L393.7 262.8L393.7 268L394 267.6L394 262.1L394.3 260.7L394.3 266.4L394.7 266.2L394.7 259.8L395 259.1L395 265.2L395.4 265.1L395.4 259.2L395.7 258.3L395.7 264L396.1 263.1L396.1 258.2L396.4 257.3L396.4 261.5L396.8 260.7L396.8 256.7L397.1 256.5L397.1 260.1L397.5 259.8L397.5 255.6L397.8 254.3L397.8 259.6L398.1 258.8L398.1 253.7L398.5 253.1L398.5 258.3L398.8 257.8L398.8 252.4L399.2 251.5L399.2 256L399.5 254.8L399.5 250.9L399.9 248.8L399.9 253.1L400.2 251.7L400.2 247.4L400.6 246.3L400.6 250.7L400.9 249.3L400.9 244L401.3 242.1L401.3 247.5L401.6 246.9L401.6 241.8L401.9 240.5L401.9 245.7L402.3 245.3L402.3 240L402.6 238.9L402.6 243.5L403 242.2L403 237.9L403.3 236.9L403.3 241.8L403.7 241.7L403.7 237.2L404 236.4L404 241.4L404.4 239.6L404.4 234.9L404.7 234L404.7 239L405.1 238.1L405.1 233.3L405.4 231.1L405.4 237.2L405.8 237.1L405.8 230.7L406.1 229.1L406.1 236.4L406.4 235.5L406.4 228.3L406.8 228.9L406.8 235.8L407.1 235.5L407.1 228.7L407.5 228.2L407.5 234.6L407.8 234.4L407.8 228.4L408.2 227.8L408.2 234.2L408.5 235.1L408.5 227.8L408.9 227.5L408.9 233.6L409.2 233.7L409.2 227.9L409.6 227.8L409.6 233.5L409.9 232.9L409.9 227.1L410.2 225.5L410.2 230.6L410.6 230.1L410.6 224.1L410.9 222.3L410.9 228.7L411.3 227.1L411.3 220.5L411.6 219.5L411.6 224.6L412 223.7L412 218.9L412.3 218.2L412.3 222L412.7 221.3L412.7 217.6L413 216.3L413 220.7L413.4 220.5L413.4 214.9L413.7 213.9L413.7 220L414.1 220.3L414.1 213.3L414.4 212.4L414.4 219.4L414.7 218L414.7 211.7L415.1 211.5L415.1 218.1L415.4 217.1L415.4 211L415.8 210.1L415.8 215.3L416.1 215.6L416.1 209.7L416.5 209.7L416.5 215.2L416.8 214L416.8 208.4L417.2 207.9L417.2 214.4L417.5 213.5L417.5 206.4L417.9 205.3L417.9 211.7L418.2 212L418.2 204.9L418.5 206.1L418.5 212.6L418.9 213.6L418.9 207.6L419.2 209.3L419.2 214.6L419.6 215.4L419.6 209.9L419.9 211.1L419.9 215.9L420.3 216.5L420.3 211.5L420.6 210.5L420.6 215.3L421 214.4L421 209L421.3 208.6L421.3 213.3L421.7 212.4L421.7 208L422 206.5L422 210.8L422.3 211.2L422.3 207.2L422.7 208.6L422.7 213L423 214.9L423 210.2L423.4 212.4L423.4 217.7L423.7 219.4L423.7 214.5L424.1 215.2L424.1 220.7L424.4 221.3L424.4 216.2L424.8 216.8L424.8 221.9L425.1 222.5L425.1 217L425.5 218.1L425.5 223.8L425.8 224.3L425.8 218.5L426.2 219.4L426.2 224.7L426.5 225.3L426.5 219.5L426.8 219.6L426.8 225.3L427.2 224.8L427.2 219.8L427.5 218.3L427.5 223.5L427.9 222.9L427.9 217.4L428.2 215.7L428.2 220.8L428.6 220L428.6 214.7L428.9 215.4L428.9 221.6L429.3 222.3L429.3 216.5L429.6 217L429.6 223.3L430 224.6L430 218.2L430.3 219.6L430.3 225.9L430.6 228.8L430.6 222.5L431 223.5L431 230.3L431.3 230.9L431.3 224.2L431.7 226.1L431.7 232.6L432 233.5L432 226.7L432.4 227.4L432.4 233.5L432.7 233.4L432.7 227.5L433.1 227.9L433.1 233.2L433.4 234.2L433.4 228.8L433.8 229.6L433.8 234L434.1 233.8L434.1 228.4L434.5 228.4L434.5 235L434.8 235.9L434.8 229.1L435.1 228.9L435.1 235.6L435.5 235.3L435.5 227.6L435.8 227.6L435.8 235.2L436.2 232.2L436.2 226.5L436.5 226.5L436.5 231.7L436.9 231.3L436.9 225.8L437.2 225.2L437.2 230.6L437.6 230.8L437.6 226L437.9 226.6L437.9 232L438.3 246L438.3 226.4L438.6 228.5L438.6 246L438.9 246L438.9 229.3L439.3 230.5L439.3 246L439.6 246L439.6 231.6L440 232.6L440 239.5L440.3 239.9L440.3 233.3L440.7 235L440.7 241.5L441 240.1L441 234.4L441.4 230.7L441.4 236.5L441.7 232.6L441.7 226.8L442.1 222.3L442.1 228.1L442.4 224.9L442.4 219.4L442.7 217.5L442.7 222.9L443.1 221.3L443.1 216.2L443.4 215.6L443.4 221.1L443.8 221.1L443.8 215.2L444.1 216L444.1 221.6L444.5 223.6L444.5 217.4L444.8 219.4L444.8 225L445.2 226.3L445.2 221.1L445.5 221.7L445.5 226.2L445.9 226.6L445.9 221.9L446.2 223L446.2 228.3L446.6 229.4L446.6 223.3L446.9 225L446.9 230.5L447.2 231.1L447.2 225.4L447.6 226.6L447.6 232.7L447.9 232.9L447.9 228L448.3 227.3L448.3 231.8L448.6 230.7L448.6 225.7L449 225.1L449 230.2L449.3 228.9L449.3 224.3L449.7 224.2L449.7 229.4L450 228.7L450 222.9L450.4 221.8L450.4 227.2L450.7 228L450.7 222L451 222.9L451 229.1L451.4 229.2L451.4 223L451.7 222.8L451.7 229.4L452.1 230.5L452.1 223.3L452.4 224.8L452.4 231.9L452.8 233.5L452.8 225.9L453.1 226.5L453.1 234.1L453.5 234.3L453.5 227.7L453.8 227.8L453.8 234.3L454.2 235.9L454.2 230L454.5 231L454.5 236.2L454.9 236.4L454.9 231.5L455.2 231.7L455.2 237L455.5 236.9L455.5 232.2L455.9 232.9L455.9 238.1L456.2 238.5L456.2 232.9L456.6 232.3L456.6 237.5L456.9 236.2L456.9 230.7L457.3 229.1L457.3 234.2L457.6 232.1L457.6 227.2L458 225.3L458 230.8L458.3 228.8L458.3 223L458.7 222.3L458.7 227.1L459 224.4L459 219.4L459.3 217.4L459.3 221.5L459.7 220.5L459.7 216.5L460 214.8L460 219.6L460.4 219.2L460.4 213.2L460.7 211.4L460.7 217.9L461.1 216.3L461.1 209.1L461.4 210.1L461.4 217.6L461.8 219L461.8 212.6L462.1 214.3L462.1 220.6L462.5 222.8L462.5 216.5L462.8 217.3L462.8 224.2L463.1 224.6L463.1 218.5L463.5 221.1L463.5 227.6L463.8 229.1L463.8 222.1L464.2 223.6L464.2 230.5L464.5 230.8L464.5 224.8L464.9 225.8L464.9 232.4L465.2 232.9L465.2 226.5L465.6 226.5L465.6 232.5L465.9 233.6L465.9 227L466.3 226.7L466.3 233.2L466.6 232L466.6 225.4L467 224.7L467 232L467.3 231.9L467.3 224.3L467.6 222.8L467.6 230L468 229.6L468 222.4L468.3 220.9L468.3 227.3L468.7 226.4L468.7 220.1L469 219.5L469 225.7L469.4 225L469.4 218.3L469.7 216.3L469.7 222.5L470.1 223.3L470.1 216.6L470.4 215.4L470.4 222.9L470.8 221.7L470.8 214.8L471.1 215.4L471.1 221.3L471.4 221.3L471.4 215L471.8 215.7L471.8 221.6L472.1 222.6L472.1 217.7L472.5 218.2L472.5 223.4L472.8 224.5L472.8 218.3L473.2 220.5L473.2 226.3L473.5 226.7L473.5 220.4L473.9 221.2L473.9 228.4L474.2 228.9L474.2 222.3L474.6 222.4L474.6 229L474.9 228.9L474.9 222.2L475.3 221.4L475.3 228L475.6 225.9L475.6 220.5L475.9 220.6L475.9 226.6L476.3 226.7L476.3 220.8L476.6 219.3L476.6 225.9L477 225.6L477 219L477.3 218L477.3 224.6L477.7 225.2L477.7 218.3L478 220.3L478 226.9L478.4 227.6L478.4 221.3L478.7 222.4L478.7 228.2L479.1 228L479.1 222.3L479.4 223.2L479.4 228.9L479.7 229.7L479.7 224L480.1 224.6L480.1 230.6L480.4 230.1L480.4 223.9L480.8 222L480.8 229.3L481.1 228.1L481.1 221.3L481.5 220.7L481.5 227.5L481.8 226.1L481.8 219.9L482.2 218.9L482.2 225.2L482.5 223.7L482.5 218.5L482.9 217.6L482.9 222.9L483.2 222.7L483.2 216.2L483.5 215.3L483.5 221L483.9 220.1L483.9 213.6L484.2 213.7L484.2 220.7L484.6 220.5L484.6 212.5L484.9 212.7L484.9 219L485.3 218.8L485.3 211.4L485.6 211.6L485.6 219.2L486 219.3L486 212L486.3 214.3L486.3 220.5L486.7 220.6L486.7 213.5L487 214.5L487 221.1L487.4 221.6L487.4 216.1L487.7 216.8L487.7 222.2L488 223.7L488 218.7L488.4 219.3L488.4 224.2L488.7 224.6L488.7 219.5L489.1 220.8L489.1 225.4L489.4 226.9L489.4 221.6L489.8 221.9L489.8 227.9L490.1 229.4L490.1 223.8L490.5 223.9L490.5 229.4L490.8 231.7L490.8 224.5L491.2 224.7L491.2 231.2L491.5 229.5L491.5 224L491.8 223.8L491.8 229.1L492.2 228.3L492.2 222.3L492.5 222.3L492.5 227.1L492.9 228.1L492.9 222.6L493.2 221.6L493.2 228.1L493.6 227.3L493.6 221.3L493.9 220.7L493.9 225.9L494.3 224.9L494.3 218.8L494.6 218.1L494.6 223.7L495 222.4L495 217.2L495.3 215.1L495.3 220.8L495.7 220.5L495.7 214.6L496 213.5L496 219.1L496.3 220L496.3 214.6L496.7 215L496.7 220.6L497 222.1L497 215.9L497.4 216.5L497.4 223L497.7 224.4L497.7 218.1L498.1 218.1L498.1 225L498.4 225.2L498.4 218.8L498.8 218.5L498.8 224.3L499.1 224.1L499.1 218.7L499.5 218.6L499.5 224.2L499.8 222.8L499.8 218.2L500.1 216.7L500.1 221.6L500.5 220.6L500.5 215.1L500.8 213.3L500.8 218.9L501.2 217.5L501.2 212.6L501.5 211.7L501.5 216.8L501.9 215.5L501.9 210.3L502.2 211L502.2 216L502.6 215L502.6 211.1L502.9 211.5L502.9 215.9L503.3 217.2L503.3 211.9L503.6 212.2L503.6 217.3L503.9 216.5L503.9 211.4L504.3 210.5L504.3 216.5L504.6 216.2L504.6 209.2L505 211.4L505 218.5L505.3 219.9L505.3 213L505.7 213.6L505.7 220.4L506 222.1L506 215.6L506.4 217L506.4 222.9L506.7 224.7L506.7 220L507.1 221.6L507.1 227.1L507.4 228.6L507.4 222.5L507.8 221.7L507.8 228.1L508.1 227.9L508.1 221.2L508.4 220.1L508.4 227.6L508.8 227.1L508.8 220L509.1 219L509.1 225.6L509.5 224L509.5 217.2L509.8 216.4L509.8 222.2L510.2 220.6L510.2 214.5L510.5 214.9L510.5 220.9L510.9 220.6L510.9 214.3L511.2 213.4L511.2 219L511.6 219.5L511.6 213.1L511.9 212.1L511.9 218.7L512.2 218.3L512.2 211.6L512.6 211.5L512.6 217.7L512.9 216.7L512.9 210.5L513.3 210.9L513.3 216.1L513.6 216.5L513.6 212.9L514 212.7L514 216.7L514.3 218.2L514.3 213.7L514.7 213.7L514.7 218.6L515 219.4L515 214.7L515.4 214.6L515.4 219.6L515.7 219.6L515.7 215.6L516.1 215.9L516.1 219.5L516.4 220L516.4 216.1L516.7 216.2L516.7 220.3L517.1 221.5L517.1 216.4L517.4 215.7L517.4 221.5L517.8 221.6L517.8 216.2L518.1 215.1L518.1 220.7L518.5 220.1L518.5 214.2L518.8 213L518.8 218.7L519.2 217.4L519.2 211.6" stroke="#d62728"/>
<path d="M95.9 208.8L147.6 204.2L149 198L148.9 198.8L148.9 201.3L149.2 200L149.2 197.5L149.5 197.1L149.5 199.5L149.9 199.2L149.9 197L150.2 196.8L150.2 199.4L150.6 199.3L150.6 196.8L150.9 197L150.9 199.8L151.3 199.6L151.3 196.5L151.6 196.6L151.6 199.5L152 199.5L152 196.6L152.3 196.3L152.3 199.2L152.7 199L152.7 196.3L153 196.4L153 199.2L153.3 199.4L153.3 196.4L153.7 197.1L153.7 199.7L154 200.2L154 197.5L154.4 198L154.4 200.8L154.7 201.1L154.7 198.4L155.1 198.2L155.1 201.3L155.4 201.9L155.4 198.2L155.8 198.4L155.8 201.7L156.1 200.3L156.1 197.2L156.5 195.9L156.5 199.3L156.8 198.2L156.8 195.3L157.2 195.1L157.2 198.3L157.5 197.1L157.5 193.3L157.8 191.5L157.8 196.3L158.2 195.3L158.2 190.9L158.5 191.8L158.5 196.3L158.9 197.4L158.9 192.7L159.2 193.4L159.2 198.9L159.6 199.6L159.6 194.4L159.9 195.6L159.9 201.1L160.3 202.7L160.3 197.1L160.6 198.7L160.6 203.8L161 204.1L161 199.8L161.3 200.5L161.3 204.3L161.6 204.9L161.6 201L162 201.7L162 205.9L162.3 206.8L162.3 202.9L162.7 203.9L162.7 208L163 208.5L163 204.2L163.4 203.9L163.4 208.5L163.7 209.3L163.7 205L164.1 205.8L164.1 210.4L164.4 210.3L164.4 205.4L164.8 204.4L164.8 209.3L165.1 208.1L165.1 203.4L165.4 201.9L165.4 206.8L165.8 206.4L165.8 201.5L166.1 199.5L166.1 203.9L166.5 202.6L166.5 198.5L166.8 196.4L166.8 200.9L167.2 200.2L167.2 195.8L167.5 194.9L167.5 199.4L167.9 198.2L167.9 193.7L168.2 192.2L168.2 197.3L168.6 198.3L168.6 193.6L168.9 195.2L168.9 199.4L169.3 201.7L169.3 197.6L169.6 198.7L169.6 202.8L169.9 203.5L169.9 200L170.3 201.9L170.3 205.5L170.6 207.7L170.6 203.2L171 204.7L171 209L171.3 209.4L171.3 205.2L171.7 205.6L171.7 210.5L172 211.1L172 206.4L172.4 206.4L172.4 211.2L172.7 210.1L172.7 205.1L173.1 203.3L173.1 208.4L173.4 207L173.4 202L173.7 201.3L173.7 205.9L174.1 204L174.1 200.3L174.4 198.7L174.4 202.8L174.8 200.7L174.8 197.1L175.1 195.8L175.1 199.4L175.5 199.8L175.5 195.8L175.8 196.8L175.8 200.9L176.2 201.3L176.2 198.4L176.5 199.7L176.5 203.2L176.9 205.2L176.9 201.8L177.2 202.9L177.2 206L177.6 207.4L177.6 203.6L177.9 204.3L177.9 209L178.2 210.9L178.2 205.7L178.6 206.4L178.6 211.5L178.9 212.6L178.9 206.8L179.3 206.6L179.3 212.5L179.6 212.2L179.6 206.6L180 206L180 210.8L180.3 210.7L180.3 206.1L180.7 205.1L180.7 209L181 208L181 204.3L181.4 203.3L181.4 207L181.7 206.5L181.7 202.4L182 200.5L182 204.5L182.4 203.7L182.4 199.2L182.7 198L182.7 202.5L183.1 201.8L183.1 196.8L183.4 196.3L183.4 201.9L183.8 201.9L183.8 196.3L184.1 196.9L184.1 202.3L184.5 201.6L184.5 197L184.8 196.5L184.8 201L185.2 200L185.2 196.6L185.5 196.9L185.5 200.9L185.8 200.5L185.8 196.5L186.2 196.1L186.2 201L186.5 201.2L186.5 196.7L186.9 197.1L186.9 201.8L187.2 201.5L187.2 197.1L187.6 197.7L187.6 201.8L187.9 202.9L187.9 198.2L188.3 199.4L188.3 204L188.6 205.2L188.6 200.1L189 199.1L189 204.2L189.3 204.3L189.3 199.7L189.7 200.3L189.7 203.9L190 204.7L190 200.8L190.3 201.7L190.3 205.8L190.7 206.6L190.7 203L191 202.8L191 206.9L191.4 208.9L191.4 204.2L191.7 205.8L191.7 209.7L192.1 211.5L192.1 208.2L192.4 209.3L192.4 212.9L192.8 212.5L192.8 208.7L193.1 208.7L193.1 212.7L193.5 212.4L193.5 208L193.8 206L193.8 210.2L194.1 208.1L194.1 204.1L194.5 202.8L194.5 206.9L194.8 205.1L194.8 201.2L195.2 199.5L195.2 203.3L195.5 201.7L195.5 198.1L195.9 196.2L195.9 199.9L196.2 198.5L196.2 194L196.6 193.9L196.6 198.3L196.9 200.2L196.9 195.5L197.3 197.1L197.3 202.3L197.6 204.5L197.6 199.2L198 201.5L198 206.2L198.3 208.4L198.3 203L198.6 205L198.6 210.5L199 211.5L199 206.4L199.3 206.1L199.3 211.1L199.7 210.4L199.7 205.5L200 205L200 209.3L200.4 208.5L200.4 204.1L200.7 203.5L200.7 208.6L201.1 207.7L201.1 202.5L201.4 201.9L201.4 207L201.8 206.2L201.8 201.2L202.1 200.4L202.1 204.1L202.4 202.8L202.4 199.2L202.8 198.5L202.8 202.4L203.1 201.3L203.1 197.6L203.5 197.2L203.5 201.5L203.8 201.6L203.8 196.7L204.2 196.4L204.2 201.1L204.5 201.6L204.5 196.9L204.9 196.1L204.9 201.6L205.2 201.2L205.2 195.9L205.6 195.6L205.6 200.9L205.9 201.7L205.9 196.3L206.2 196.3L206.2 201.4L206.6 201.6L206.6 197L206.9 197.7L206.9 201.8L207.3 203.1L207.3 199.2L207.6 199.9L207.6 203.6L208 205.2L208 201.4L208.3 202L208.3 205.8L208.7 207.9L208.7 203.6L209 204.6L209 209.1L209.4 209.9L209.4 204.7L209.7 205.6L209.7 211.4L210.1 212.6L210.1 206.6L210.4 206.5L210.4 212.7L210.7 211.8L210.7 204.7L211.1 203.5L211.1 210.6L211.4 208.8L211.4 202.6L211.8 201.6L211.8 207.2L212.1 205.4L212.1 200.2L212.5 200.2L212.5 204.2L212.8 202.7L212.8 198.9L213.2 198.2L213.2 202L213.5 201.1L213.5 196.4L213.9 196L213.9 201.1L214.2 201.6L214.2 196.6L214.5 197L214.5 201.8L214.9 202L214.9 197.4L215.2 197.8L215.2 202.2L215.6 203.3L215.6 199L215.9 199.2L215.9 204.6L216.3 204.7L216.3 200L216.6 199.5L216.6 205.1L217 206.2L217 200.1L217.3 201L217.3 207L217.7 207.8L217.7 202.5L218 202.1L218 208.3L218.4 208.8L218.4 203.3L218.7 204.7L218.7 208.8L219 209.5L219 204.8L219.4 205.5L219.4 209.7L219.7 209.4L219.7 206.1L220.1 206.2L220.1 210.1L220.4 210.3L220.4 205.8L220.8 205.3L220.8 209.3L221.1 208.5L221.1 204.2L221.5 203.1L221.5 208.2L221.8 207.2L221.8 203L222.2 201.8L222.2 206.3L222.5 204.7L222.5 200L222.8 199.2L222.8 204.3L223.2 201.9L223.2 197.1L223.5 196.1L223.5 201.6L223.9 200.9L223.9 195L224.2 195.6L224.2 201.7L224.6 203.1L224.6 196.8L224.9 198.4L224.9 205.2L225.3 205.6L225.3 199.1L225.6 201.3L225.6 207L226 206.9L226 201L226.3 203.2L226.3 208.7L226.6 209.2L226.6 203.7L227 205.2L227 211.7L227.3 212L227.3 205.4L227.7 206L227.7 212.2L228 210.7L228 204.9L228.4 204.4L228.4 211.2L228.7 210.1L228.7 203.4L229.1 204.3L229.1 211.3L229.4 211.8L229.4 203.9L229.8 203.6L229.8 211.8L230.1 212.7L230.1 204.6L230.5 205.1L230.5 213L230.8 212.6L230.8 204.7L231.1 204.5L231.1 212L231.5 211L231.5 203.3L231.8 199.8L231.8 208.1L232.2 207.4L232.2 199.3L232.5 198.6L232.5 206.1L232.9 205.5L232.9 198.8L233.2 197.5L233.2 205L233.6 204.3L233.6 197.3L233.9 197L233.9 204.3L234.3 205.7L234.3 197.6L234.6 197.2L234.6 206.6L234.9 206.6L234.9 196.8L235.3 196.3L235.3 206L235.6 207.9L235.6 197.8L236 199.4L236 208.5L236.3 208.8L236.3 200.5L236.7 201.1L236.7 209.1L237 208.7L237 201.9L237.4 202.3L237.4 208.4L237.7 210.2L237.7 202.4L238.1 202.6L238.1 210.8L238.4 212.4L238.4 204.5L238.8 205.6L238.8 215.8L239.1 215.7L239.1 205.2L239.4 205.9L239.4 215.2L239.8 216L239.8 206.3L240.1 204.3L240.1 214.8L240.5 213.3L240.5 203.7L240.8 201.6L240.8 210.7L241.2 210.2L241.2 200.3L241.5 200.9L241.5 209.4L241.9 208.6L241.9 198.6L242.2 197.6L242.2 206.6L242.6 207.7L242.6 198.2L242.9 198.3L242.9 207.6L243.2 209.7L243.2 198.5L243.6 202.9L243.6 210.7L243.9 215L243.9 205.1L244.3 205.9L244.3 217.1L244.6 217.2L244.6 206.9L245 207.4L245 217.7L245.3 219.3L245.3 207.3L245.7 208.3L245.7 219.4L246 221.1L246 209.4L246.4 208.3L246.4 221L246.7 221L246.7 209.3L247 210.1L247 220.5L247.4 219.5L247.4 209L247.7 208.5L247.7 217.4L248.1 215.3L248.1 206.9L248.4 204.9L248.4 213.7L248.8 213.6L248.8 203.2L249.1 202.6L249.1 214.1L249.5 213.4L249.5 202.8L249.8 202.4L249.8 212.8L250.2 213.7L250.2 202.8L250.5 200.9L250.5 212.4L250.9 211.7L250.9 201.1L251.2 202.5L251.2 214L251.5 213.1L251.5 202.2L251.9 202.9L251.9 212.6L252.2 212.6L252.2 205.3L252.6 205.8L252.6 213.4L252.9 213.4L252.9 205.8L253.3 204.9L253.3 213.5L253.6 213L253.6 203.6L254 204.3L254 214.5L254.3 215.7L254.3 205.6L254.7 207.5L254.7 218.4L255 219.5L255 207.7L255.3 210.1L255.3 220.9L255.7 221.8L255.7 210.3L256 212.5L256 222.9L256.4 221L256.4 212.1L256.7 211.6L256.7 217.9L257.1 216.1L257.1 209.2L257.4 208.3L257.4 214.1L257.8 214.1L257.8 207.6L258.1 208.5L258.1 215.3L258.5 215.6L258.5 208L258.8 207.1L258.8 215.8L259.2 215.9L259.2 207L259.5 210.2L259.5 219.1L259.8 221.2L259.8 212L260.2 212.7L260.2 223.2L260.5 220.4L260.5 211.5L260.9 211L260.9 220.8L261.2 221.3L261.2 211.8L261.6 211.6L261.6 221.8L261.9 220.1L261.9 210.8L262.3 210.1L262.3 222.3L262.6 222.8L262.6 212L263 213.7L263 224.1L263.3 224.4L263.3 213.7L263.6 213.9L263.6 224.5L264 222.7L264 213.3L264.3 214.2L264.3 223.5L264.7 225.2L264.7 215L265 213.6L265 222.5L265.4 222L265.4 212.5L265.7 214.7L265.7 223.1L266.1 222.9L266.1 213.2L266.4 213L266.4 222.4L266.8 221.7L266.8 211.7L267.1 213L267.1 222L267.4 223.5L267.4 214.1L267.8 216.1L267.8 225L268.1 226.8L268.1 217.1L268.5 217.9L268.5 228L268.8 229.8L268.8 219.2L269.2 218.7L269.2 229.9L269.5 229.7L269.5 217.7L269.9 217.6L269.9 228.7L270.2 229.2L270.2 219L270.6 218.1L270.6 228.6L270.9 228.3L270.9 219.4L271.3 220.8L271.3 229.7L271.6 230.6L271.6 222.4L271.9 222.7L271.9 231.9L272.3 232.5L272.3 224.2L272.6 223L272.6 231.5L273 231.1L273 223.4L273.3 224.4L273.3 232.9L273.7 231.2L273.7 223.4L274 222.3L274 231.2L274.4 232.2L274.4 222.5L274.7 222L274.7 232.4L275.1 232.2L275.1 221.6L275.4 221L275.4 232.6L275.7 232.6L275.7 222.8L276.1 222.1L276.1 232.1L276.4 232.3L276.4 221.5L276.8 222.8L276.8 232.6L277.1 233.5L277.1 225.9L277.5 226.2L277.5 235.6L277.8 237.5L277.8 227.3L278.2 226.6L278.2 233.7L278.5 234.9L278.5 226.4L278.9 228.3L278.9 239.3L279.2 239.6L279.2 227.8L279.6 227.6L279.6 238.8L279.9 240.1L279.9 226.5L280.2 226.7L280.2 240.1L280.6 240.9L280.6 229.3L280.9 229.9L280.9 239.9L281.3 238.2L281.3 227.7L281.6 227.6L281.6 237.4L282 235.6L282 226.1L282.3 223.6L282.3 233L282.7 233.7L282.7 223.1L283 222.3L283 232.5L283.4 233.2L283.4 223.1L283.7 223.9L283.7 234.3L284 236.1L284 225.1L284.4 226.4L284.4 236.2L284.7 236.9L284.7 227.8L285.1 228.4L285.1 236.6L285.4 236.5L285.4 228.1L285.8 228.9L285.8 236.1L286.1 237.5L286.1 230.1L286.5 231.1L286.5 238.3L286.8 237.9L286.8 229.4L287.2 231L287.2 237.8L287.5 239.2L287.5 230.4L287.8 230.8L287.8 240.2L288.2 241.2L288.2 231.1L288.5 231.5L288.5 241.9L288.9 243.8L288.9 232.3L289.2 234.8L289.2 244.6L289.6 244.4L289.6 234.4L289.9 234L289.9 243.1L290.3 241.9L290.3 233.9L290.6 231.4L290.6 238.8L291 237L291 229L291.3 228.6L291.3 237.1L291.7 236.7L291.7 228.2L292 227.5L292 236L292.3 236.8L292.3 227.5L292.7 227.5L292.7 236.5L293 237.7L293 229.6L293.4 231.4L293.4 239.7L293.7 240.8L293.7 231.4L294.1 231.8L294.1 241.9L294.4 244.1L294.4 233.1L294.8 232.9L294.8 245.3L295.1 247.8L295.1 233.8L295.5 234.7L295.5 248.6L295.8 246.6L295.8 233L296.1 232.2L296.1 245.9L296.5 245.4L296.5 233.5L296.8 231.7L296.8 244.4L297.2 244.1L297.2 231.7L297.5 231.8L297.5 245L297.9 243.5L297.9 231.2L298.2 230.5L298.2 243.4L298.6 242.9L298.6 231.4L298.9 231.4L298.9 241.7L299.3 241.7L299.3 232.1L299.6 231.8L299.6 242L300 240.8L300 231.5L300.3 231.4L300.3 241.4L300.6 241.5L300.6 229.3L301 228.7L301 241.5L301.3 241.2L301.3 228.4L301.7 231.1L301.7 243.9L302 245.1L302 233.6L302.4 235.7L302.4 246.2L302.7 247.8L302.7 236.9L303.1 238.9L303.1 249.9L303.4 249.3L303.4 238.4L303.8 237.3L303.8 247.7L304.1 246.8L304.1 237.6L304.4 238.7L304.4 246.8L304.8 245.3L304.8 238.2L305.1 237.5L305.1 245L305.5 246.3L305.5 236.4L305.8 235.7L305.8 246.9L306.2 247.8L306.2 236.1L306.5 232.5L306.5 246.1L306.9 245L306.9 231.5L307.2 232.6L307.2 246L307.6 245.2L307.6 232.3L307.9 232.8L307.9 245.2L308.2 246.1L308.2 234.1L308.6 234L308.6 245.9L308.9 246.6L308.9 235.7L309.3 237.9L309.3 248.2L309.6 249L309.6 238.4L310 239.3L310 249.2L310.3 250.2L310.3 240.4L310.7 241L310.7 250.3L311 251.5L311 242.5L311.4 243.7L311.4 252.2L311.7 253.1L311.7 243.9L312.1 244.8L312.1 254.9L312.4 255L312.4 244.2L312.7 243.9L312.7 256.4L313.1 256.6L313.1 244.6L313.4 243.8L313.4 255.5L313.8 254.2L313.8 242L314.1 240.4L314.1 252L314.5 250.3L314.5 238.9L314.8 236.3L314.8 250.6L315.2 249L315.2 235.6L315.5 235.3L315.5 247.8L315.9 248.4L315.9 235.8L316.2 236L316.2 249.2L316.5 248.1L316.5 237.1L316.9 239L316.9 249.1L317.2 250.4L317.2 240.2L317.6 240.7L317.6 250.6L317.9 251L317.9 242.6L318.3 242.9L318.3 251.8L318.6 252.2L318.6 243.6L319 243.1L319 252.3L319.3 253.4L319.3 244.7L319.7 244.9L319.7 253.7L320 254.1L320 245.6L320.4 243.9L320.4 253.7L320.7 251.2L320.7 241.4L321 242.1L321 250.9L321.4 251.2L321.4 243.6L321.7 244.3L321.7 251.4L322.1 252.1L322.1 244.1L322.4 244.8L322.4 251.9L322.8 253L322.8 244.1L323.1 243.8L323.1 254.6L323.5 254.2L323.5 242.3L323.8 244L323.8 254.1L324.2 253.7L324.2 243.5L324.5 244.1L324.5 255.1L324.8 255.5L324.8 246.3L325.2 247.6L325.2 255.9L325.5 256.3L325.5 247.3L325.9 246.7L325.9 256.5L326.2 254.6L326.2 246.7L326.6 246.7L326.6 255.5L326.9 255.7L326.9 245.6L327.3 245.5L327.3 256.7L327.6 257L327.6 246.1L328 248.8L328 259.3L328.3 261.4L328.3 249.5L328.6 250L328.6 262.1L329 262.7L329 251.7L329.3 252.7L329.3 263.6L329.7 263.2L329.7 251L330 254.1L330 264.4L330.4 264.2L330.4 256L330.7 254.2L330.7 260.6L331.1 261.4L331.1 254.9L331.4 254.6L331.4 260.4L331.8 261.1L331.8 254.1L332.1 253.6L332.1 261.5L332.5 261.3L332.5 252L332.8 250.6L332.8 260.6L333.1 258.8L333.1 248.6L333.5 246.3L333.5 255.4L333.8 256.2L333.8 245.9L334.2 245.3L334.2 255.5L334.5 255.9L334.5 245.1L334.9 246.5L334.9 257.8L335.2 258.1L335.2 246.2L335.6 248.7L335.6 259.5L335.9 259.9L335.9 248.1L336.3 249.2L336.3 260.5L336.6 259.4L336.6 250L336.9 251L336.9 260.8L337.3 262.7L337.3 251.8L337.6 254.7L337.6 264.8L338 264.5L338 255.7L338.3 257.6L338.3 267.3L338.7 269.1L338.7 260.6L339 261.2L339 268.6L339.4 270.3L339.4 261.5L339.7 261.7L339.7 270.9L340.1 272L340.1 262.9L340.4 261.8L340.4 270.7L340.8 270.5L340.8 261.5L341.1 261.3L341.1 269L341.4 268.3L341.4 260.9L341.8 260.3L341.8 267.1L342.1 266.5L342.1 259.5L342.5 257.9L342.5 263.9L342.8 263.3L342.8 257.8L343.2 257.9L343.2 263.1L343.5 262.4L343.5 256.7L343.9 256.6L343.9 262.4L344.2 261.6L344.2 256.3L344.6 255.9L344.6 261.4L344.9 260L344.9 254.3L345.2 253.9L345.2 259.4L345.6 259.5L345.6 253.6L345.9 254.8L345.9 261.1L346.3 263.1L346.3 257.3L346.6 259.6L346.6 264.4L347 264.7L347 261.1L347.3 262.7L347.3 265.3L347.7 266.4L347.7 264.3L348 265.4L348 267.4L348.4 269.2L348.4 266.9L348.7 268L348.7 271.1L349 272.9L349 269.4L349.4 270.9L349.4 274.6L349.7 276.6L349.7 272.9L350.1 274.2L350.1 277.8L350.4 279.1L350.4 276.3L350.8 278.3L350.8 280.9L351.1 283.2L351.1 280.6L351.5 281.9L351.5 284.3L351.8 282.9L351.8 280.4L352.2 278.2L352.2 280.6L352.5 278.6L352.5 276.5L352.9 274.7L352.9 276.4L353.2 276.1L353.2 273.7L353.5 274L353.5 276.3L353.9 277.5L353.9 274.5L354.2 274.8L354.2 278.5L354.6 279.5L354.6 275.6L354.9 276.5L354.9 280L355.3 280.5L355.3 276.8L355.6 276.8L355.6 280.3L356 281L356 277.7L356.3 277.4L356.3 281.2L356.7 281.9L356.7 277.5L357 277.4L357 281.8L357.3 281.8L357.3 277.4L357.7 278.2L357.7 282.5L358 282.4L358 278.5L358.4 277.5L358.4 281.4L358.7 280.5L358.7 276.9L359.1 276.3L359.1 280.1L359.4 279.2L359.4 276.2L359.8 276L359.8 279.2L360.1 278.6L360.1 275.7L360.5 274.9L360.5 277.7L360.8 278.2L360.8 275.4L361.1 275.3L361.1 278.9L361.5 279.4L361.5 275.6L361.8 275.1L361.8 278.7L362.2 278.9L362.2 275.1L362.5 275.7L362.5 278.9L362.9 279.7L362.9 276.6L363.2 277.3L363.2 280L363.6 281L363.6 278.5L363.9 278.9L363.9 281.1L364.3 282.3L364.3 279.5L364.6 279.3L364.6 282.8L365 283.8L365 279.7L365.3 280.4L365.3 284.7L365.6 285.3L365.6 280.3L366 281.3L366 285.9L366.3 286.2L366.3 282L366.7 282.3L366.7 286.2L367 287L367 283.3L367.4 284L367.4 287L367.7 285.3L367.7 282.5L368.1 279.9L368.1 282.7L368.4 280.6L368.4 277.8L368.8 275.6L368.8 278.5L369.1 276.3L369.1 273.1L369.4 270.5L369.4 274.1L369.8 272.9L369.8 269.1L370.1 269.3L370.1 273.1L370.5 274.7L370.5 270.7L370.8 271.7L370.8 275.2L371.2 275.9L371.2 272.8L371.5 273.8L371.5 276.6L371.9 276.9L371.9 274.2L372.2 275L372.2 277.8L372.6 279.4L372.6 276L372.9 277.1L372.9 280.7L373.3 281.3L373.3 278.1L373.6 279.9L373.6 282.9L373.9 283.5L373.9 280.5L374.3 280.9L374.3 283.4L374.6 283.4L374.6 280.6L375 280.3L375 283.9L375.3 283.8L375.3 280.6L375.7 280.5L375.7 283.5L376 283L376 280.1L376.4 279.1L376.4 281.7L376.7 280.4L376.7 278.2L377.1 277.1L377.1 279.4L377.4 278L377.4 275.4L377.7 273.7L377.7 276.9L378.1 277.2L378.1 274L378.4 274.3L378.4 278.1L378.8 278.7L378.8 274.7L379.1 275.8L379.1 279.2L379.5 279L379.5 275.9L379.8 277L379.8 280.1L380.2 280.5L380.2 278.3L380.5 278.8L380.5 281.3L380.9 281.6L380.9 278.7L381.2 279.4L381.2 282.2L381.5 282.9L381.5 279.8L381.9 280.9L381.9 284.4L382.2 284.4L382.2 280.8L382.6 280.4L382.6 283.7L382.9 283.5L382.9 279.8L383.3 280.2L383.3 283.4L383.6 283L383.6 279.5L384 279.5L384 282.6L384.3 281.9L384.3 278.2L384.7 277.4L384.7 280.8L385 280.4L385 276.6L385.4 276L385.4 279.8L385.7 278.8L385.7 275.4L386 274.6L386 277.2L386.4 276.2L386.4 273L386.7 273.1L386.7 276L387.1 276.6L387.1 273.7L387.4 273.8L387.4 277.3L387.8 278.3L387.8 274L388.1 275L388.1 278.9L388.5 279.7L388.5 275.8L388.8 276.8L388.8 280.4L389.2 279.9L389.2 276.4L389.5 275.6L389.5 278.5L389.8 278.1L389.8 274.9L390.2 274.5L390.2 277.2L390.5 276.2L390.5 273.9L390.9 273.1L390.9 275.8L391.2 274.9L391.2 271.8L391.6 270.8L391.6 273.7L391.9 273L391.9 269.5L392.3 268.9L392.3 272.5L392.6 271.5L392.6 267.4L393 266.6L393 269.9L393.3 269.1L393.3 265.2L393.7 264.2L393.7 268.4L394 266.9L394 262.2L394.3 262L394.3 266L394.7 265L394.7 260.9L395 260.3L395 263.6L395.4 262.8L395.4 260L395.7 259.5L395.7 262.2L396.1 261.1L396.1 258.3L396.4 258.4L396.4 261.5L396.8 261.5L396.8 257.6L397.1 257.2L397.1 261.3L397.5 260.7L397.5 256.5L397.8 255.7L397.8 259.9L398.1 259.1L398.1 255.2L398.5 254.8L398.5 258.5L398.8 256.7L398.8 253.3L399.2 252L399.2 255.4L399.5 254.2L399.5 250.5L399.9 249.5L399.9 253.7L400.2 252L400.2 248.1L400.6 246.5L400.6 250.7L400.9 248.8L400.9 244.6L401.3 243.5L401.3 247.3L401.6 246.7L401.6 242.8L401.9 241.9L401.9 246.4L402.3 245.3L402.3 240.6L402.6 239.7L402.6 244.1L403 243.3L403 238.7L403.3 238.8L403.3 243.2L403.7 242L403.7 238.1L404 236.9L404 240.4L404.4 239.5L404.4 235.8L404.7 234.3L404.7 238.3L405.1 237.6L405.1 233.3L405.4 232.1L405.4 236.9L405.8 236.6L405.8 230.8L406.1 230.4L406.1 236L406.4 234.7L406.4 229.6L406.8 229.8L406.8 234.6L407.1 234.2L407.1 229.7L407.5 229L407.5 233.1L407.8 233.6L407.8 228.8L408.2 229.1L408.2 234.4L408.5 233.7L408.5 228.8L408.9 228.6L408.9 233.3L409.2 232.6L409.2 228.5L409.6 228.2L409.6 231.9L409.9 231.7L409.9 228L410.2 226.7L410.2 230.5L410.6 229.2L410.6 225.4L410.9 224.7L410.9 229L411.3 228.7L411.3 224.6L411.6 224L411.6 227.7L412 226.5L412 222.4L412.3 221.1L412.3 225.4L412.7 224.3L412.7 220.2L413 219.8L413 223.9L413.4 222.4L413.4 218.7L413.7 217.4L413.7 221.2L414.1 220.3L414.1 216.6L414.4 216.3L414.4 220.1L414.7 218.9L414.7 215.2L415.1 213.5L415.1 217.5L415.4 216.3L415.4 212.9L415.8 212.9L415.8 216.2L416.1 215.3L416.1 212.1L416.5 211L416.5 214.6L416.8 214L416.8 210.7L417.2 209.7L417.2 213.2L417.5 213L417.5 208.9L417.9 207.7L417.9 212.1L418.2 211.5L418.2 206.9L418.5 208.6L418.5 213.7L418.9 214.3L418.9 209.6L419.2 211.7L419.2 215.9L419.6 217.2L419.6 212.5L419.9 213.7L419.9 218.4L420.3 218.6L420.3 213.6L420.6 213L420.6 218.2L421 216.2L421 211.1L421.3 210.9L421.3 215.4L421.7 213.9L421.7 209.5L422 208.6L422 213.1L422.3 212.4L422.3 207.9L422.7 209.1L422.7 213.4L423 214.9L423 210.9L423.4 212.7L423.4 216.6L423.7 217.1L423.7 213.7L424.1 215.2L424.1 218.4L424.4 220.1L424.4 216L424.8 217.3L424.8 221.4L425.1 223.1L425.1 219.1L425.5 219L425.5 223.6L425.8 224.1L425.8 218.8L426.2 219.8L426.2 224.9L426.5 223.8L426.5 218.9L426.8 217.9L426.8 223L427.2 221.6L427.2 216.8L427.5 216L427.5 220.2L427.9 219.7L427.9 215.7L428.2 215.2L428.2 219.5L428.6 219.3L428.6 214.9L428.9 215.5L428.9 219.2L429.3 220.5L429.3 216.5L429.6 217.4L429.6 221.1L430 222.2L430 218.5L430.3 219.4L430.3 222.6L430.6 224L430.6 220.2L431 221.4L431 225.6L431.3 228.8L431.3 224.3L431.7 225.9L431.7 230.5L432 232.4L432 227.4L432.4 228.4L432.4 233.2L432.7 234L432.7 229.6L433.1 230.2L433.1 234.9L433.4 234.8L433.4 229.7L433.8 228.5L433.8 233.9L434.1 232.9L434.1 227.7L434.5 227.8L434.5 232.9L434.8 232.7L434.8 228.1L435.1 228.3L435.1 232.8L435.5 231.9L435.5 227.6L435.8 227.5L435.8 232.1L436.2 232.2L436.2 228L436.5 228.6L436.5 233L436.9 233.1L436.9 229L437.2 229.2L437.2 232.4L437.6 232.1L437.6 228.5L437.9 229.2L437.9 232.8L438.3 232.8L438.3 229.2L438.6 229.7L438.6 233.5L438.9 233.9L438.9 229.5L439.3 231.1L439.3 235.3L439.6 236.3L439.6 231.5L440 233.2L440 238.4L440.3 239.4L440.3 234.5L440.7 235.7L440.7 241.1L441 239.7L441 235.1L441.4 232.6L441.4 236.8L441.7 232.3L441.7 228.3L442.1 225L442.1 229L442.4 226.1L442.4 222L442.7 219.9L442.7 224.5L443.1 222.2L443.1 217.6L443.4 216.4L443.4 221.1L443.8 221.6L443.8 216.2L444.1 217.4L444.1 222.4L444.5 223.1L444.5 218L444.8 218.2L444.8 224.7L445.2 226.2L445.2 219.9L445.5 221.6L445.5 227.1L445.9 228.2L445.9 222.9L446.2 223.6L446.2 228.9L446.6 229L446.6 224.7L446.9 226L446.9 229.9L447.2 231.5L447.2 226.9L447.6 227.3L447.6 232.1L447.9 232.8L447.9 227.9L448.3 226.4L448.3 231.6L448.6 230.7L448.6 225L449 224.8L449 229.9L449.3 228.9L449.3 223.9L449.7 223.6L449.7 228.5L450 227.7L450 223.1L450.4 221.6L450.4 225.7L450.7 225.8L450.7 221.5L451 222.5L451 227L451.4 228.1L451.4 223.2L451.7 224.9L451.7 229.8L452.1 230.4L452.1 225.3L452.4 226L452.4 231.4L452.8 231.7L452.8 226.7L453.1 228.4L453.1 232.9L453.5 233.1L453.5 228.1L453.8 228.6L453.8 233.9L454.2 234L454.2 228.9L454.5 230.1L454.5 235.4L454.9 236.1L454.9 230.3L455.2 231.4L455.2 236.5L455.5 236.9L455.5 232.3L455.9 234.1L455.9 239L456.2 238.9L456.2 234.1L456.6 233.4L456.6 238L456.9 236.1L456.9 231.6L457.3 229.2L457.3 234.3L457.6 231.8L457.6 227.7L458 225.4L458 230.3L458.3 228.7L458.3 224.4L458.7 222.9L458.7 227.1L459 224.8L459 221.1L459.3 218.8L459.3 223.1L459.7 221.7L459.7 217.6L460 215.8L460 220.5L460.4 218.7L460.4 214.2L460.7 212.3L460.7 216.8L461.1 215.7L461.1 211.8L461.4 211.6L461.4 215.4L461.8 217.2L461.8 213.5L462.1 215.6L462.1 219.3L462.5 221.1L462.5 217L462.8 219.1L462.8 223.8L463.1 224.7L463.1 220.5L463.5 222.4L463.5 226.7L463.8 228.7L463.8 223.7L464.2 224.8L464.2 229.1L464.5 229.5L464.5 225.3L464.9 225.2L464.9 229.2L465.2 229.2L465.2 225.4L465.6 226.9L465.6 230.4L465.9 231L465.9 227.1L466.3 227.5L466.3 232L466.6 232.5L466.6 227.8L467 226.9L467 231.4L467.3 231.5L467.3 226.6L467.6 225.8L467.6 230.5L468 228.8L468 224.1L468.3 222.4L468.3 227.4L468.7 227L468.7 221.9L469 220.7L469 225L469.4 224.2L469.4 219.9L469.7 219.2L469.7 222.7L470.1 222.1L470.1 218.6L470.4 218.2L470.4 221.3L470.8 221.1L470.8 218L471.1 217.1L471.1 220.8L471.4 220.8L471.4 216.2L471.8 215.5L471.8 220.2L472.1 221.6L472.1 216.9L472.5 217.6L472.5 223L472.8 224.8L472.8 219.1L473.2 221L473.2 226L473.5 226.5L473.5 221.8L473.9 222.4L473.9 227.7L474.2 228.1L474.2 223L474.6 223.4L474.6 228.1L474.9 228.1L474.9 222.7L475.3 221.8L475.3 227.2L475.6 225.9L475.6 220.9L475.9 221.3L475.9 225.7L476.3 225.5L476.3 221.4L476.6 221.7L476.6 225.6L477 224.8L477 220.9L477.3 220.3L477.3 224.6L477.7 225.1L477.7 220.1L478 220.6L478 226L478.4 226.3L478.4 220.8L478.7 221.7L478.7 226.8L479.1 227.5L479.1 222L479.4 223.3L479.4 228.3L479.7 228.3L479.7 224.1L480.1 224.8L480.1 228.9L480.4 228.6L480.4 224.6L480.8 224.4L480.8 228.2L481.1 227L481.1 223.4L481.5 222.3L481.5 226.5L481.8 225.4L481.8 222L482.2 221.2L482.2 224.7L482.5 223.8L482.5 220.3L482.9 219.7L482.9 223.2L483.2 221.9L483.2 218.2L483.5 218L483.5 221.9L483.9 221.6L483.9 217.3L484.2 216.7L484.2 221.5L484.6 221.5L484.6 215.8L484.9 215.2L484.9 221L485.3 219.4L485.3 213.9L485.6 213.7L485.6 219.8L486 219.7L486 214.4L486.3 216.5L486.3 221.1L486.7 221.1L486.7 217.2L487 217.8L487 222L487.4 223L487.4 219.1L487.7 220.1L487.7 224.7L488 224.8L488 220.1L488.4 220.8L488.4 226L488.7 226.3L488.7 221.3L489.1 222.2L489.1 226.6L489.4 226.8L489.4 222.3L489.8 223.2L489.8 228L490.1 228.1L490.1 223.4L490.5 223.5L490.5 228.4L490.8 228.5L490.8 223.7L491.2 223.9L491.2 227.8L491.5 227.4L491.5 223.9L491.8 224.2L491.8 226.9L492.2 225.6L492.2 222.9L492.5 221.5L492.5 224.7L492.9 224.4L492.9 221L493.2 220.3L493.2 223.8L493.6 223.8L493.6 219.2L493.9 218.5L493.9 223.4L494.3 222L494.3 217.1L494.6 217L494.6 221.5L495 221.3L495 216.8L495.3 215.9L495.3 220.4L495.7 219.8L495.7 216L496 215.8L496 219.4L496.3 219L496.3 214.9L496.7 215.4L496.7 219.1L497 220.1L497 216.1L497.4 217.2L497.4 221.2L497.7 222L497.7 218.1L498.1 219L498.1 222.6L498.4 223.7L498.4 219.9L498.8 219.9L498.8 223.1L499.1 222.5L499.1 219.3L499.5 218.7L499.5 222.6L499.8 221.2L499.8 217.3L500.1 215L500.1 219.8L500.5 218.3L500.5 213.5L500.8 212.2L500.8 217.6L501.2 216.8L501.2 211.6L501.5 211.4L501.5 217.1L501.9 217.1L501.9 212L502.2 211.4L502.2 216.6L502.6 216.5L502.6 211.3L502.9 210.9L502.9 215.8L503.3 214.7L503.3 210.2L503.6 209.9L503.6 214.2L503.9 213.7L503.9 209.8L504.3 208.3L504.3 212.9L504.6 214.3L504.6 209.4L505 210.4L505 215.9L505.3 218L505.3 212.4L505.7 213.8L505.7 220.6L506 221.5L506 216.3L506.4 218L506.4 222.5L506.7 224L506.7 220.1L507.1 221.7L507.1 225.3L507.4 225.7L507.4 223.4L507.8 222.1L507.8 225.2L508.1 224.9L508.1 221.7L508.4 220.8L508.4 224.5L508.8 223.7L508.8 219.4L509.1 217.7L509.1 222.8L509.5 222.2L509.5 217.4L509.8 216.1L509.8 221.2L510.2 220.3L510.2 216.1L510.5 215.8L510.5 219.2L510.9 218.2L510.9 215.3L511.2 215.3L511.2 218.4L511.6 218L511.6 215.2L511.9 214.2L511.9 217.4L512.2 217.3L512.2 214.1L512.6 214L512.6 217.1L512.9 217.6L512.9 214.1L513.3 214.5L513.3 218.2L513.6 218.9L513.6 215.1L514 216L514 219.6L514.3 220.2L514.3 216.1L514.7 216.6L514.7 220L515 220.2L515 216.9L515.4 216.9L515.4 220.4L515.7 221.7L515.7 217.1L516.1 217L516.1 221.6L516.4 220.3L516.4 215.4L516.7 215.2L516.7 220L517.1 220.7L517.1 216.1L517.4 215.6L517.4 220.3L517.8 220.1L517.8 215.4L518.1 214.6L518.1 219.5L518.5 218.8L518.5 214.3L518.8 214L518.8 218.4L519.2 218.3L519.2 214" stroke="#9467bd"/>
</g>
<rect x="65.85" y="9.55" width="475.19999999999993" height="370.2" fill="none" stroke="#000" stroke-width="1.7"/>
<g stroke="#000" stroke-width="1.7">
<line x1="87.20" x2="87.20" y1="379.75" y2="385.95"/>
<line x1="173.64" x2="173.64" y1="379.75" y2="385.95"/>
<line x1="260.08" x2="260.08" y1="379.75" y2="385.95"/>
<line x1="346.52" x2="346.52" y1="379.75" y2="385.95"/>
<line x1="432.96" x2="432.96" y1="379.75" y2="385.95"/>
<line x1="519.40" x2="519.40" y1="379.75" y2="385.95"/>
<line x1="59.64999999999999" x2="65.85" y1="330.15" y2="330.15"/>
<line x1="59.64999999999999" x2="65.85" y1="279.50" y2="279.50"/>
<line x1="59.64999999999999" x2="65.85" y1="228.85" y2="228.85"/>
<line x1="59.64999999999999" x2="65.85" y1="178.20" y2="178.20"/>
<line x1="59.64999999999999" x2="65.85" y1="127.55" y2="127.55"/>
<line x1="59.64999999999999" x2="65.85" y1="76.90" y2="76.90"/>
<line x1="59.64999999999999" x2="65.85" y1="26.25" y2="26.25"/>
</g>
<g font-family="'DejaVu Sans','Liberation Sans',sans-serif" font-size="16.7" fill="#000" stroke="#000" stroke-width="0.4" stroke-linejoin="round">
<text x="87.20" y="405.2" text-anchor="middle">0</text>
<text x="173.64" y="405.2" text-anchor="middle">2000</text>
<text x="260.08" y="405.2" text-anchor="middle">4000</text>
<text x="346.52" y="405.2" text-anchor="middle">6000</text>
<text x="432.96" y="405.2" text-anchor="middle">8000</text>
<text x="519.40" y="405.2" text-anchor="middle">10000</text>
<text x="53.8" y="336.75" text-anchor="end">1.3</text>
<text x="53.8" y="286.10" text-anchor="end">1.4</text>
<text x="53.8" y="235.45" text-anchor="end">1.5</text>
<text x="53.8" y="184.80" text-anchor="end">1.6</text>
<text x="53.8" y="134.15" text-anchor="end">1.7</text>
<text x="53.8" y="83.50" text-anchor="end">1.8</text>
<text x="53.8" y="32.85" text-anchor="end">1.9</text>
<text x="303.3" y="427.8" text-anchor="middle">time</text>
<text transform="translate(16.6,194.4) rotate(-90)" text-anchor="middle">lpv</text>
</g>
<rect x="403.8" y="18.4" width="128.5" height="129.4" rx="3.2" ry="3.2" fill="#fff" fill-opacity="0.8" stroke="#ccc" stroke-width="1.3"/>
<g font-family="'DejaVu Sans','Liberation Sans',sans-serif" font-size="16.7" fill="#000" stroke="#000" stroke-width="0.4" stroke-linejoin="round">
<line x1="410.2" x2="446.6" y1="32.15" y2="32.15" stroke="#1f77b4" stroke-width="2.7"/>
<text x="459" y="37.95">Original</text>
<line x1="410.2" x2="446.6" y1="57.12" y2="57.12" stroke="#ff7f0e" stroke-width="2.7"/>
<text x="459" y="62.92">ws=5</text>
<line x1="410.2" x2="446.6" y1="82.09" y2="82.09" stroke="#2ca02c" stroke-width="2.7"/>
<text x="459" y="87.89">ws=15</text>
<line x1="410.2" x2="446.6" y1="107.06" y2="107.06" stroke="#d62728" stroke-width="2.7"/>
<text x="459" y="112.86">ws=25</text>
<line x1="410.2" x2="446.6" y1="132.03" y2="132.03" stroke="#9467bd" stroke-width="2.7"/>
<text x="459" y="137.83">ws=35</text>
</g>
</svg>
</body></html>
